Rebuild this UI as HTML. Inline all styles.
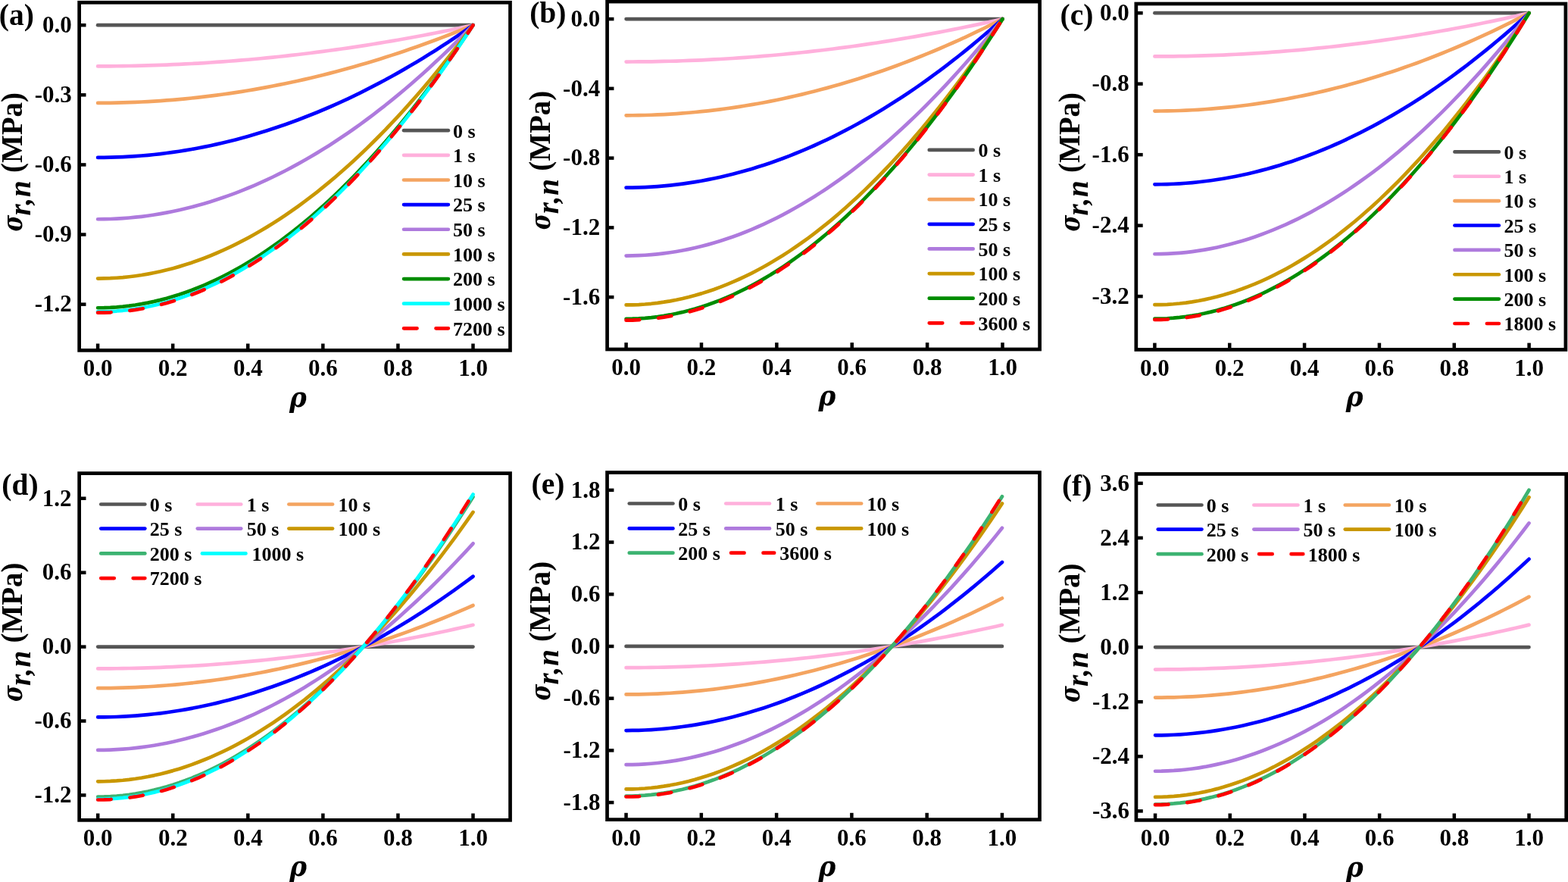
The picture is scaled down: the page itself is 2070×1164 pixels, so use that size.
<!DOCTYPE html>
<html><head><meta charset="utf-8"><title>Radial stress distributions</title>
<style>html,body{margin:0;padding:0;background:#fff;}svg{display:block;}text{font-family:'Liberation Serif', 'Times New Roman', serif;font-weight:bold;fill:#000;}</style></head><body>
<svg width="2070" height="1164" viewBox="0 0 2070 1164">
<rect width="2070" height="1164" fill="#fff"/>
<g id="panel-a">
<path d="M129.1 33.2 L137.36 33.2 L145.61 33.2 L153.87 33.2 L162.13 33.2 L170.38 33.2 L178.64 33.2 L186.9 33.2 L195.15 33.2 L203.41 33.2 L211.67 33.2 L219.92 33.2 L228.18 33.2 L236.44 33.2 L244.69 33.2 L252.95 33.2 L261.21 33.2 L269.46 33.2 L277.72 33.2 L285.98 33.2 L294.23 33.2 L302.49 33.2 L310.75 33.2 L319 33.2 L327.26 33.2 L335.52 33.2 L343.77 33.2 L352.03 33.2 L360.29 33.2 L368.54 33.2 L376.8 33.2 L385.06 33.2 L393.31 33.2 L401.57 33.2 L409.83 33.2 L418.08 33.2 L426.34 33.2 L434.6 33.2 L442.85 33.2 L451.11 33.2 L459.37 33.2 L467.62 33.2 L475.88 33.2 L484.14 33.2 L492.39 33.2 L500.65 33.2 L508.91 33.2 L517.16 33.2 L525.42 33.2 L533.68 33.2 L541.93 33.2 L550.19 33.2 L558.45 33.2 L566.7 33.2 L574.96 33.2 L583.22 33.2 L591.47 33.2 L599.73 33.2 L607.99 33.2 L616.24 33.2 L624.5 33.2" fill="none" stroke="#555555" stroke-width="4.7" stroke-linecap="round" stroke-linejoin="round"/>
<path d="M129.1 87.39 L137.36 87.38 L145.61 87.33 L153.87 87.26 L162.13 87.15 L170.38 87.02 L178.64 86.85 L186.9 86.65 L195.15 86.43 L203.41 86.17 L211.67 85.89 L219.92 85.57 L228.18 85.22 L236.44 84.85 L244.69 84.44 L252.95 84.01 L261.21 83.54 L269.46 83.04 L277.72 82.52 L285.98 81.96 L294.23 81.37 L302.49 80.75 L310.75 80.11 L319 79.43 L327.26 78.72 L335.52 77.98 L343.77 77.22 L352.03 76.42 L360.29 75.59 L368.54 74.73 L376.8 73.84 L385.06 72.93 L393.31 71.98 L401.57 71 L409.83 69.99 L418.08 68.95 L426.34 67.88 L434.6 66.78 L442.85 65.66 L451.11 64.5 L459.37 63.31 L467.62 62.09 L475.88 60.84 L484.14 59.56 L492.39 58.25 L500.65 56.91 L508.91 55.54 L517.16 54.14 L525.42 52.71 L533.68 51.25 L541.93 49.76 L550.19 48.24 L558.45 46.69 L566.7 45.11 L574.96 43.5 L583.22 41.86 L591.47 40.18 L599.73 38.48 L607.99 36.75 L616.24 34.99 L624.5 33.2" fill="none" stroke="#FFB0DC" stroke-width="4.7" stroke-linecap="round" stroke-linejoin="round"/>
<path d="M129.1 135.9 L137.36 135.88 L145.61 135.79 L153.87 135.65 L162.13 135.45 L170.38 135.19 L178.64 134.88 L186.9 134.51 L195.15 134.08 L203.41 133.59 L211.67 133.05 L219.92 132.45 L228.18 131.8 L236.44 131.08 L244.69 130.31 L252.95 129.49 L261.21 128.6 L269.46 127.66 L277.72 126.66 L285.98 125.61 L294.23 124.49 L302.49 123.32 L310.75 122.1 L319 120.81 L327.26 119.47 L335.52 118.07 L343.77 116.62 L352.03 115.11 L360.29 113.54 L368.54 111.91 L376.8 110.23 L385.06 108.49 L393.31 106.69 L401.57 104.84 L409.83 102.93 L418.08 100.96 L426.34 98.93 L434.6 96.85 L442.85 94.71 L451.11 92.51 L459.37 90.26 L467.62 87.95 L475.88 85.58 L484.14 83.15 L492.39 80.67 L500.65 78.13 L508.91 75.54 L517.16 72.88 L525.42 70.17 L533.68 67.41 L541.93 64.58 L550.19 61.7 L558.45 58.76 L566.7 55.77 L574.96 52.71 L583.22 49.6 L591.47 46.44 L599.73 43.21 L607.99 39.93 L616.24 36.59 L624.5 33.2" fill="none" stroke="#F4A460" stroke-width="4.7" stroke-linecap="round" stroke-linejoin="round"/>
<path d="M129.1 207.91 L137.36 207.86 L145.61 207.71 L153.87 207.47 L162.13 207.13 L170.38 206.69 L178.64 206.16 L186.9 205.53 L195.15 204.8 L203.41 203.97 L211.67 203.05 L219.92 202.03 L228.18 200.92 L236.44 199.7 L244.69 198.39 L252.95 196.99 L261.21 195.48 L269.46 193.88 L277.72 192.18 L285.98 190.39 L294.23 188.49 L302.49 186.5 L310.75 184.42 L319 182.23 L327.26 179.95 L335.52 177.57 L343.77 175.1 L352.03 172.53 L360.29 169.86 L368.54 167.09 L376.8 164.23 L385.06 161.27 L393.31 158.21 L401.57 155.06 L409.83 151.81 L418.08 148.46 L426.34 145.01 L434.6 141.47 L442.85 137.83 L451.11 134.09 L459.37 130.26 L467.62 126.33 L475.88 122.3 L484.14 118.17 L492.39 113.95 L500.65 109.63 L508.91 105.22 L517.16 100.7 L525.42 96.09 L533.68 91.39 L541.93 86.58 L550.19 81.68 L558.45 76.68 L566.7 71.59 L574.96 66.39 L583.22 61.1 L591.47 55.72 L599.73 50.23 L607.99 44.65 L616.24 38.97 L624.5 33.2" fill="none" stroke="#0000FF" stroke-width="4.7" stroke-linecap="round" stroke-linejoin="round"/>
<path d="M129.1 289.27 L137.36 289.2 L145.61 288.99 L153.87 288.63 L162.13 288.13 L170.38 287.49 L178.64 286.71 L186.9 285.79 L195.15 284.72 L203.41 283.51 L211.67 282.16 L219.92 280.66 L228.18 279.03 L236.44 277.25 L244.69 275.33 L252.95 273.27 L261.21 271.06 L269.46 268.71 L277.72 266.22 L285.98 263.59 L294.23 260.82 L302.49 257.9 L310.75 254.84 L319 251.64 L327.26 248.3 L335.52 244.81 L343.77 241.19 L352.03 237.42 L360.29 233.5 L368.54 229.45 L376.8 225.25 L385.06 220.91 L393.31 216.43 L401.57 211.81 L409.83 207.04 L418.08 202.14 L426.34 197.09 L434.6 191.89 L442.85 186.56 L451.11 181.08 L459.37 175.46 L467.62 169.7 L475.88 163.8 L484.14 157.75 L492.39 151.56 L500.65 145.23 L508.91 138.76 L517.16 132.14 L525.42 125.39 L533.68 118.49 L541.93 111.44 L550.19 104.26 L558.45 96.93 L566.7 89.46 L574.96 81.85 L583.22 74.1 L591.47 66.2 L599.73 58.17 L607.99 49.99 L616.24 41.66 L624.5 33.2" fill="none" stroke="#AE7ADD" stroke-width="4.7" stroke-linecap="round" stroke-linejoin="round"/>
<path d="M129.1 367.57 L137.36 367.47 L145.61 367.2 L153.87 366.73 L162.13 366.08 L170.38 365.24 L178.64 364.22 L186.9 363.02 L195.15 361.62 L203.41 360.04 L211.67 358.28 L219.92 356.33 L228.18 354.19 L236.44 351.87 L244.69 349.36 L252.95 346.67 L261.21 343.79 L269.46 340.72 L277.72 337.47 L285.98 334.04 L294.23 330.41 L302.49 326.61 L310.75 322.61 L319 318.43 L327.26 314.07 L335.52 309.52 L343.77 304.78 L352.03 299.86 L360.29 294.75 L368.54 289.45 L376.8 283.97 L385.06 278.31 L393.31 272.46 L401.57 266.42 L409.83 260.2 L418.08 253.79 L426.34 247.19 L434.6 240.41 L442.85 233.45 L451.11 226.3 L459.37 218.96 L467.62 211.44 L475.88 203.73 L484.14 195.83 L492.39 187.75 L500.65 179.49 L508.91 171.03 L517.16 162.4 L525.42 153.57 L533.68 144.56 L541.93 135.37 L550.19 125.99 L558.45 116.42 L566.7 106.67 L574.96 96.73 L583.22 86.61 L591.47 76.3 L599.73 65.8 L607.99 55.12 L616.24 44.25 L624.5 33.2" fill="none" stroke="#C99700" stroke-width="4.7" stroke-linecap="round" stroke-linejoin="round"/>
<path d="M129.1 406.25 L137.36 406.15 L145.61 405.84 L153.87 405.32 L162.13 404.6 L170.38 403.66 L178.64 402.52 L186.9 401.18 L195.15 399.62 L203.41 397.86 L211.67 395.89 L219.92 393.71 L228.18 391.33 L236.44 388.74 L244.69 385.94 L252.95 382.94 L261.21 379.73 L269.46 376.31 L277.72 372.68 L285.98 368.84 L294.23 364.8 L302.49 360.55 L310.75 356.1 L319 351.44 L327.26 346.57 L335.52 341.49 L343.77 336.2 L352.03 330.71 L360.29 325.01 L368.54 319.1 L376.8 312.99 L385.06 306.67 L393.31 300.14 L401.57 293.4 L409.83 286.46 L418.08 279.31 L426.34 271.95 L434.6 264.39 L442.85 256.62 L451.11 248.64 L459.37 240.45 L467.62 232.06 L475.88 223.46 L484.14 214.65 L492.39 205.63 L500.65 196.41 L508.91 186.98 L517.16 177.34 L525.42 167.5 L533.68 157.45 L541.93 147.19 L550.19 136.72 L558.45 126.05 L566.7 115.17 L574.96 104.08 L583.22 92.78 L591.47 81.28 L599.73 69.57 L607.99 57.66 L616.24 45.53 L624.5 33.2" fill="none" stroke="#008C00" stroke-width="4.7" stroke-linecap="round" stroke-linejoin="round"/>
<path d="M129.1 411.47 L137.36 411.37 L145.61 411.05 L153.87 410.53 L162.13 409.79 L170.38 408.85 L178.64 407.69 L186.9 406.32 L195.15 404.75 L203.41 402.96 L211.67 400.97 L219.92 398.76 L228.18 396.34 L236.44 393.72 L244.69 390.88 L252.95 387.83 L261.21 384.57 L269.46 381.11 L277.72 377.43 L285.98 373.54 L294.23 369.44 L302.49 365.13 L310.75 360.62 L319 355.89 L327.26 350.95 L335.52 345.8 L343.77 340.44 L352.03 334.87 L360.29 329.09 L368.54 323.1 L376.8 316.9 L385.06 310.5 L393.31 303.88 L401.57 297.05 L409.83 290.01 L418.08 282.76 L426.34 275.29 L434.6 267.62 L442.85 259.74 L451.11 251.65 L459.37 243.35 L467.62 234.84 L475.88 226.12 L484.14 217.19 L492.39 208.05 L500.65 198.69 L508.91 189.13 L517.16 179.36 L525.42 169.38 L533.68 159.19 L541.93 148.78 L550.19 138.17 L558.45 127.35 L566.7 116.32 L574.96 105.07 L583.22 93.62 L591.47 81.96 L599.73 70.08 L607.99 58 L616.24 45.7 L624.5 33.2" fill="none" stroke="#00FFFF" stroke-width="4.7" stroke-linecap="round" stroke-linejoin="round"/>
<path d="M129.1 412.7 L137.36 412.6 L145.61 412.28 L153.87 411.75 L162.13 411.01 L170.38 410.07 L178.64 408.91 L186.9 407.54 L195.15 405.95 L203.41 404.16 L211.67 402.16 L219.92 399.95 L228.18 397.52 L236.44 394.89 L244.69 392.04 L252.95 388.98 L261.21 385.71 L269.46 382.24 L277.72 378.55 L285.98 374.65 L294.23 370.53 L302.49 366.21 L310.75 361.68 L319 356.94 L327.26 351.98 L335.52 346.82 L343.77 341.44 L352.03 335.85 L360.29 330.05 L368.54 324.05 L376.8 317.83 L385.06 311.4 L393.31 304.75 L401.57 297.9 L409.83 290.84 L418.08 283.57 L426.34 276.08 L434.6 268.39 L442.85 260.48 L451.11 252.36 L459.37 244.03 L467.62 235.5 L475.88 226.75 L484.14 217.79 L492.39 208.61 L500.65 199.23 L508.91 189.64 L517.16 179.84 L525.42 169.82 L533.68 159.6 L541.93 149.16 L550.19 138.51 L558.45 127.65 L566.7 116.58 L574.96 105.31 L583.22 93.81 L591.47 82.11 L599.73 70.2 L607.99 58.08 L616.24 45.74 L624.5 33.2" fill="none" stroke="#FF0000" stroke-width="4.7" stroke-linecap="round" stroke-linejoin="round" stroke-dasharray="17.5 24.95"/>
<rect x="104.65" y="3.3" width="568.85" height="459.05" fill="none" stroke="#000" stroke-width="4.7"/>
<line x1="129.1" y1="460.5" x2="129.1" y2="453.5" stroke="#000" stroke-width="4.5"/>
<text x="129.1" y="496.45" font-size="31" text-anchor="middle">0.0</text>
<line x1="228.18" y1="460.5" x2="228.18" y2="453.5" stroke="#000" stroke-width="4.5"/>
<text x="228.18" y="496.45" font-size="31" text-anchor="middle">0.2</text>
<line x1="327.26" y1="460.5" x2="327.26" y2="453.5" stroke="#000" stroke-width="4.5"/>
<text x="327.26" y="496.45" font-size="31" text-anchor="middle">0.4</text>
<line x1="426.34" y1="460.5" x2="426.34" y2="453.5" stroke="#000" stroke-width="4.5"/>
<text x="426.34" y="496.45" font-size="31" text-anchor="middle">0.6</text>
<line x1="525.42" y1="460.5" x2="525.42" y2="453.5" stroke="#000" stroke-width="4.5"/>
<text x="525.42" y="496.45" font-size="31" text-anchor="middle">0.8</text>
<line x1="624.5" y1="460.5" x2="624.5" y2="453.5" stroke="#000" stroke-width="4.5"/>
<text x="624.5" y="496.45" font-size="31" text-anchor="middle">1.0</text>
<line x1="106.5" y1="33.2" x2="113.5" y2="33.2" stroke="#000" stroke-width="4.5"/>
<text x="94.8" y="43" font-size="31" text-anchor="end">0.0</text>
<line x1="106.5" y1="125.31" x2="113.5" y2="125.31" stroke="#000" stroke-width="4.5"/>
<text x="94.8" y="135.11" font-size="31" text-anchor="end">-0.3</text>
<line x1="106.5" y1="217.42" x2="113.5" y2="217.42" stroke="#000" stroke-width="4.5"/>
<text x="94.8" y="227.22" font-size="31" text-anchor="end">-0.6</text>
<line x1="106.5" y1="309.54" x2="113.5" y2="309.54" stroke="#000" stroke-width="4.5"/>
<text x="94.8" y="319.34" font-size="31" text-anchor="end">-0.9</text>
<line x1="106.5" y1="401.65" x2="113.5" y2="401.65" stroke="#000" stroke-width="4.5"/>
<text x="94.8" y="411.45" font-size="31" text-anchor="end">-1.2</text>
</g>
<g id="panel-b">
<path d="M826.6 25.1 L834.88 25.1 L843.16 25.1 L851.45 25.1 L859.73 25.1 L868.01 25.1 L876.29 25.1 L884.57 25.1 L892.85 25.1 L901.13 25.1 L909.42 25.1 L917.7 25.1 L925.98 25.1 L934.26 25.1 L942.54 25.1 L950.83 25.1 L959.11 25.1 L967.39 25.1 L975.67 25.1 L983.95 25.1 L992.23 25.1 L1000.51 25.1 L1008.8 25.1 L1017.08 25.1 L1025.36 25.1 L1033.64 25.1 L1041.92 25.1 L1050.2 25.1 L1058.49 25.1 L1066.77 25.1 L1075.05 25.1 L1083.33 25.1 L1091.61 25.1 L1099.89 25.1 L1108.18 25.1 L1116.46 25.1 L1124.74 25.1 L1133.02 25.1 L1141.3 25.1 L1149.59 25.1 L1157.87 25.1 L1166.15 25.1 L1174.43 25.1 L1182.71 25.1 L1190.99 25.1 L1199.28 25.1 L1207.56 25.1 L1215.84 25.1 L1224.12 25.1 L1232.4 25.1 L1240.68 25.1 L1248.96 25.1 L1257.25 25.1 L1265.53 25.1 L1273.81 25.1 L1282.09 25.1 L1290.37 25.1 L1298.65 25.1 L1306.94 25.1 L1315.22 25.1 L1323.5 25.1" fill="none" stroke="#555555" stroke-width="4.7" stroke-linecap="round" stroke-linejoin="round"/>
<path d="M826.6 81.53 L834.88 81.52 L843.16 81.47 L851.45 81.39 L859.73 81.28 L868.01 81.14 L876.29 80.97 L884.57 80.76 L892.85 80.53 L901.13 80.26 L909.42 79.96 L917.7 79.64 L925.98 79.28 L934.26 78.88 L942.54 78.46 L950.83 78.01 L959.11 77.52 L967.39 77 L975.67 76.45 L983.95 75.87 L992.23 75.26 L1000.51 74.62 L1008.8 73.95 L1017.08 73.24 L1025.36 72.5 L1033.64 71.74 L1041.92 70.94 L1050.2 70.1 L1058.49 69.24 L1066.77 68.35 L1075.05 67.42 L1083.33 66.47 L1091.61 65.48 L1099.89 64.46 L1108.18 63.41 L1116.46 62.33 L1124.74 61.22 L1133.02 60.07 L1141.3 58.9 L1149.59 57.69 L1157.87 56.45 L1166.15 55.18 L1174.43 53.88 L1182.71 52.55 L1190.99 51.18 L1199.28 49.79 L1207.56 48.36 L1215.84 46.9 L1224.12 45.42 L1232.4 43.9 L1240.68 42.34 L1248.96 40.76 L1257.25 39.15 L1265.53 37.5 L1273.81 35.82 L1282.09 34.11 L1290.37 32.37 L1298.65 30.6 L1306.94 28.8 L1315.22 26.97 L1323.5 25.1" fill="none" stroke="#FFB0DC" stroke-width="4.7" stroke-linecap="round" stroke-linejoin="round"/>
<path d="M826.6 152.3 L834.88 152.27 L843.16 152.16 L851.45 151.98 L859.73 151.74 L868.01 151.42 L876.29 151.03 L884.57 150.57 L892.85 150.04 L901.13 149.44 L909.42 148.77 L917.7 148.03 L925.98 147.21 L934.26 146.33 L942.54 145.38 L950.83 144.35 L959.11 143.26 L967.39 142.09 L975.67 140.85 L983.95 139.55 L992.23 138.17 L1000.51 136.72 L1008.8 135.2 L1017.08 133.61 L1025.36 131.95 L1033.64 130.22 L1041.92 128.42 L1050.2 126.54 L1058.49 124.6 L1066.77 122.59 L1075.05 120.5 L1083.33 118.35 L1091.61 116.12 L1099.89 113.82 L1108.18 111.46 L1116.46 109.02 L1124.74 106.51 L1133.02 103.93 L1141.3 101.28 L1149.59 98.56 L1157.87 95.77 L1166.15 92.91 L1174.43 89.97 L1182.71 86.97 L1190.99 83.9 L1199.28 80.75 L1207.56 77.54 L1215.84 74.25 L1224.12 70.89 L1232.4 67.47 L1240.68 63.97 L1248.96 60.4 L1257.25 56.76 L1265.53 53.05 L1273.81 49.27 L1282.09 45.42 L1290.37 41.49 L1298.65 37.5 L1306.94 33.44 L1315.22 29.3 L1323.5 25.1" fill="none" stroke="#F4A460" stroke-width="4.7" stroke-linecap="round" stroke-linejoin="round"/>
<path d="M826.6 247.62 L834.88 247.56 L843.16 247.37 L851.45 247.06 L859.73 246.63 L868.01 246.07 L876.29 245.39 L884.57 244.59 L892.85 243.66 L901.13 242.61 L909.42 241.44 L917.7 240.14 L925.98 238.72 L934.26 237.17 L942.54 235.5 L950.83 233.71 L959.11 231.79 L967.39 229.75 L975.67 227.59 L983.95 225.3 L992.23 222.89 L1000.51 220.36 L1008.8 217.7 L1017.08 214.92 L1025.36 212.02 L1033.64 208.99 L1041.92 205.83 L1050.2 202.56 L1058.49 199.16 L1066.77 195.64 L1075.05 191.99 L1083.33 188.22 L1091.61 184.32 L1099.89 180.31 L1108.18 176.16 L1116.46 171.9 L1124.74 167.51 L1133.02 163 L1141.3 158.36 L1149.59 153.6 L1157.87 148.72 L1166.15 143.71 L1174.43 138.58 L1182.71 133.33 L1190.99 127.95 L1199.28 122.45 L1207.56 116.83 L1215.84 111.08 L1224.12 105.21 L1232.4 99.21 L1240.68 93.09 L1248.96 86.85 L1257.25 80.48 L1265.53 73.99 L1273.81 67.38 L1282.09 60.64 L1290.37 53.78 L1298.65 46.8 L1306.94 39.69 L1315.22 32.46 L1323.5 25.1" fill="none" stroke="#0000FF" stroke-width="4.7" stroke-linecap="round" stroke-linejoin="round"/>
<path d="M826.6 337.54 L834.88 337.46 L843.16 337.2 L851.45 336.76 L859.73 336.15 L868.01 335.37 L876.29 334.42 L884.57 333.29 L892.85 331.99 L901.13 330.51 L909.42 328.86 L917.7 327.04 L925.98 325.05 L934.26 322.88 L942.54 320.53 L950.83 318.02 L959.11 315.32 L967.39 312.46 L975.67 309.42 L983.95 306.21 L992.23 302.83 L1000.51 299.27 L1008.8 295.54 L1017.08 291.63 L1025.36 287.55 L1033.64 283.3 L1041.92 278.87 L1050.2 274.27 L1058.49 269.5 L1066.77 264.55 L1075.05 259.43 L1083.33 254.14 L1091.61 248.67 L1099.89 243.03 L1108.18 237.21 L1116.46 231.23 L1124.74 225.06 L1133.02 218.73 L1141.3 212.22 L1149.59 205.54 L1157.87 198.68 L1166.15 191.65 L1174.43 184.45 L1182.71 177.07 L1190.99 169.52 L1199.28 161.79 L1207.56 153.9 L1215.84 145.82 L1224.12 137.58 L1232.4 129.16 L1240.68 120.57 L1248.96 111.8 L1257.25 102.86 L1265.53 93.75 L1273.81 84.46 L1282.09 75 L1290.37 65.37 L1298.65 55.56 L1306.94 45.58 L1315.22 35.43 L1323.5 25.1" fill="none" stroke="#AE7ADD" stroke-width="4.7" stroke-linecap="round" stroke-linejoin="round"/>
<path d="M826.6 402.46 L834.88 402.36 L843.16 402.04 L851.45 401.52 L859.73 400.79 L868.01 399.84 L876.29 398.69 L884.57 397.33 L892.85 395.75 L901.13 393.97 L909.42 391.98 L917.7 389.78 L925.98 387.37 L934.26 384.75 L942.54 381.92 L950.83 378.88 L959.11 375.63 L967.39 372.17 L975.67 368.5 L983.95 364.62 L992.23 360.53 L1000.51 356.24 L1008.8 351.73 L1017.08 347.01 L1025.36 342.08 L1033.64 336.95 L1041.92 331.6 L1050.2 326.05 L1058.49 320.28 L1066.77 314.31 L1075.05 308.12 L1083.33 301.73 L1091.61 295.12 L1099.89 288.31 L1108.18 281.29 L1116.46 274.05 L1124.74 266.61 L1133.02 258.96 L1141.3 251.1 L1149.59 243.03 L1157.87 234.75 L1166.15 226.26 L1174.43 217.56 L1182.71 208.65 L1190.99 199.53 L1199.28 190.2 L1207.56 180.66 L1215.84 170.91 L1224.12 160.95 L1232.4 150.78 L1240.68 140.41 L1248.96 129.82 L1257.25 119.02 L1265.53 108.02 L1273.81 96.8 L1282.09 85.37 L1290.37 73.74 L1298.65 61.89 L1306.94 49.84 L1315.22 37.57 L1323.5 25.1" fill="none" stroke="#C99700" stroke-width="4.7" stroke-linecap="round" stroke-linejoin="round"/>
<path d="M826.6 420.82 L834.88 420.71 L843.16 420.38 L851.45 419.83 L859.73 419.06 L868.01 418.07 L876.29 416.86 L884.57 415.43 L892.85 413.78 L901.13 411.91 L909.42 409.82 L917.7 407.51 L925.98 404.99 L934.26 402.24 L942.54 399.27 L950.83 396.08 L959.11 392.68 L967.39 389.05 L975.67 385.2 L983.95 381.13 L992.23 376.85 L1000.51 372.34 L1008.8 367.61 L1017.08 362.67 L1025.36 357.5 L1033.64 352.11 L1041.92 346.51 L1050.2 340.68 L1058.49 334.64 L1066.77 328.37 L1075.05 321.89 L1083.33 315.18 L1091.61 308.26 L1099.89 301.11 L1108.18 293.75 L1116.46 286.16 L1124.74 278.36 L1133.02 270.33 L1141.3 262.09 L1149.59 253.63 L1157.87 244.94 L1166.15 236.04 L1174.43 226.91 L1182.71 217.57 L1190.99 208.01 L1199.28 198.23 L1207.56 188.22 L1215.84 178 L1224.12 167.56 L1232.4 156.9 L1240.68 146.01 L1248.96 134.91 L1257.25 123.59 L1265.53 112.05 L1273.81 100.29 L1282.09 88.3 L1290.37 76.1 L1298.65 63.68 L1306.94 51.04 L1315.22 38.18 L1323.5 25.1" fill="none" stroke="#008C00" stroke-width="4.7" stroke-linecap="round" stroke-linejoin="round"/>
<path d="M826.6 422.65 L834.88 422.54 L843.16 422.21 L851.45 421.66 L859.73 420.88 L868.01 419.89 L876.29 418.67 L884.57 417.24 L892.85 415.58 L901.13 413.71 L909.42 411.61 L917.7 409.29 L925.98 406.75 L934.26 403.99 L942.54 401.01 L950.83 397.8 L959.11 394.38 L967.39 390.74 L975.67 386.87 L983.95 382.78 L992.23 378.48 L1000.51 373.95 L1008.8 369.2 L1017.08 364.23 L1025.36 359.04 L1033.64 353.63 L1041.92 348 L1050.2 342.15 L1058.49 336.07 L1066.77 329.78 L1075.05 323.26 L1083.33 316.53 L1091.61 309.57 L1099.89 302.39 L1108.18 294.99 L1116.46 287.37 L1124.74 279.53 L1133.02 271.47 L1141.3 263.19 L1149.59 254.69 L1157.87 245.96 L1166.15 237.02 L1174.43 227.85 L1182.71 218.46 L1190.99 208.86 L1199.28 199.03 L1207.56 188.98 L1215.84 178.71 L1224.12 168.22 L1232.4 157.51 L1240.68 146.57 L1248.96 135.42 L1257.25 124.05 L1265.53 112.45 L1273.81 100.63 L1282.09 88.6 L1290.37 76.34 L1298.65 63.86 L1306.94 51.16 L1315.22 38.24 L1323.5 25.1" fill="none" stroke="#FF0000" stroke-width="4.7" stroke-linecap="round" stroke-linejoin="round" stroke-dasharray="17.5 25.05"/>
<rect x="801.6" y="2.1" width="571" height="458.9" fill="none" stroke="#000" stroke-width="4.7"/>
<line x1="826.6" y1="459.15" x2="826.6" y2="452.15" stroke="#000" stroke-width="4.5"/>
<text x="826.6" y="495.1" font-size="31" text-anchor="middle">0.0</text>
<line x1="925.98" y1="459.15" x2="925.98" y2="452.15" stroke="#000" stroke-width="4.5"/>
<text x="925.98" y="495.1" font-size="31" text-anchor="middle">0.2</text>
<line x1="1025.36" y1="459.15" x2="1025.36" y2="452.15" stroke="#000" stroke-width="4.5"/>
<text x="1025.36" y="495.1" font-size="31" text-anchor="middle">0.4</text>
<line x1="1124.74" y1="459.15" x2="1124.74" y2="452.15" stroke="#000" stroke-width="4.5"/>
<text x="1124.74" y="495.1" font-size="31" text-anchor="middle">0.6</text>
<line x1="1224.12" y1="459.15" x2="1224.12" y2="452.15" stroke="#000" stroke-width="4.5"/>
<text x="1224.12" y="495.1" font-size="31" text-anchor="middle">0.8</text>
<line x1="1323.5" y1="459.15" x2="1323.5" y2="452.15" stroke="#000" stroke-width="4.5"/>
<text x="1323.5" y="495.1" font-size="31" text-anchor="middle">1.0</text>
<line x1="803.45" y1="25.1" x2="810.45" y2="25.1" stroke="#000" stroke-width="4.5"/>
<text x="792.2" y="34.9" font-size="31" text-anchor="end">0.0</text>
<line x1="803.45" y1="116.86" x2="810.45" y2="116.86" stroke="#000" stroke-width="4.5"/>
<text x="792.2" y="126.66" font-size="31" text-anchor="end">-0.4</text>
<line x1="803.45" y1="208.62" x2="810.45" y2="208.62" stroke="#000" stroke-width="4.5"/>
<text x="792.2" y="218.42" font-size="31" text-anchor="end">-0.8</text>
<line x1="803.45" y1="300.38" x2="810.45" y2="300.38" stroke="#000" stroke-width="4.5"/>
<text x="792.2" y="310.18" font-size="31" text-anchor="end">-1.2</text>
<line x1="803.45" y1="392.14" x2="810.45" y2="392.14" stroke="#000" stroke-width="4.5"/>
<text x="792.2" y="401.94" font-size="31" text-anchor="end">-1.6</text>
</g>
<g id="panel-c">
<path d="M1524.4 17.2 L1532.64 17.2 L1540.87 17.2 L1549.11 17.2 L1557.35 17.2 L1565.58 17.2 L1573.82 17.2 L1582.06 17.2 L1590.29 17.2 L1598.53 17.2 L1606.77 17.2 L1615 17.2 L1623.24 17.2 L1631.48 17.2 L1639.71 17.2 L1647.95 17.2 L1656.19 17.2 L1664.42 17.2 L1672.66 17.2 L1680.9 17.2 L1689.13 17.2 L1697.37 17.2 L1705.61 17.2 L1713.84 17.2 L1722.08 17.2 L1730.32 17.2 L1738.55 17.2 L1746.79 17.2 L1755.03 17.2 L1763.26 17.2 L1771.5 17.2 L1779.74 17.2 L1787.97 17.2 L1796.21 17.2 L1804.45 17.2 L1812.68 17.2 L1820.92 17.2 L1829.16 17.2 L1837.39 17.2 L1845.63 17.2 L1853.87 17.2 L1862.1 17.2 L1870.34 17.2 L1878.58 17.2 L1886.81 17.2 L1895.05 17.2 L1903.29 17.2 L1911.52 17.2 L1919.76 17.2 L1928 17.2 L1936.23 17.2 L1944.47 17.2 L1952.71 17.2 L1960.94 17.2 L1969.18 17.2 L1977.42 17.2 L1985.65 17.2 L1993.89 17.2 L2002.13 17.2 L2010.36 17.2 L2018.6 17.2" fill="none" stroke="#555555" stroke-width="4.7" stroke-linecap="round" stroke-linejoin="round"/>
<path d="M1524.4 74.46 L1532.64 74.44 L1540.87 74.39 L1549.11 74.31 L1557.35 74.2 L1565.58 74.06 L1573.82 73.88 L1582.06 73.68 L1590.29 73.44 L1598.53 73.17 L1606.77 72.87 L1615 72.53 L1623.24 72.17 L1631.48 71.77 L1639.71 71.34 L1647.95 70.88 L1656.19 70.38 L1664.42 69.86 L1672.66 69.3 L1680.9 68.71 L1689.13 68.09 L1697.37 67.44 L1705.61 66.76 L1713.84 66.04 L1722.08 65.3 L1730.32 64.52 L1738.55 63.71 L1746.79 62.86 L1755.03 61.99 L1763.26 61.08 L1771.5 60.14 L1779.74 59.17 L1787.97 58.17 L1796.21 57.14 L1804.45 56.07 L1812.68 54.97 L1820.92 53.84 L1829.16 52.68 L1837.39 51.49 L1845.63 50.27 L1853.87 49.01 L1862.1 47.72 L1870.34 46.4 L1878.58 45.05 L1886.81 43.67 L1895.05 42.25 L1903.29 40.8 L1911.52 39.32 L1919.76 37.81 L1928 36.27 L1936.23 34.7 L1944.47 33.09 L1952.71 31.45 L1960.94 29.78 L1969.18 28.08 L1977.42 26.35 L1985.65 24.58 L1993.89 22.78 L2002.13 20.95 L2010.36 19.09 L2018.6 17.2" fill="none" stroke="#FFB0DC" stroke-width="4.7" stroke-linecap="round" stroke-linejoin="round"/>
<path d="M1524.4 146.55 L1532.64 146.52 L1540.87 146.41 L1549.11 146.23 L1557.35 145.98 L1565.58 145.65 L1573.82 145.26 L1582.06 144.79 L1590.29 144.25 L1598.53 143.64 L1606.77 142.96 L1615 142.21 L1623.24 141.38 L1631.48 140.48 L1639.71 139.51 L1647.95 138.47 L1656.19 137.35 L1664.42 136.17 L1672.66 134.91 L1680.9 133.58 L1689.13 132.18 L1697.37 130.71 L1705.61 129.16 L1713.84 127.55 L1722.08 125.86 L1730.32 124.1 L1738.55 122.26 L1746.79 120.36 L1755.03 118.38 L1763.26 116.33 L1771.5 114.21 L1779.74 112.02 L1787.97 109.76 L1796.21 107.42 L1804.45 105.02 L1812.68 102.54 L1820.92 99.99 L1829.16 97.36 L1837.39 94.67 L1845.63 91.9 L1853.87 89.06 L1862.1 86.15 L1870.34 83.17 L1878.58 80.12 L1886.81 76.99 L1895.05 73.79 L1903.29 70.52 L1911.52 67.18 L1919.76 63.77 L1928 60.28 L1936.23 56.72 L1944.47 53.1 L1952.71 49.39 L1960.94 45.62 L1969.18 41.78 L1977.42 37.86 L1985.65 33.87 L1993.89 29.81 L2002.13 25.68 L2010.36 21.48 L2018.6 17.2" fill="none" stroke="#F4A460" stroke-width="4.7" stroke-linecap="round" stroke-linejoin="round"/>
<path d="M1524.4 243.3 L1532.64 243.24 L1540.87 243.05 L1549.11 242.74 L1557.35 242.3 L1565.58 241.73 L1573.82 241.04 L1582.06 240.23 L1590.29 239.29 L1598.53 238.22 L1606.77 237.02 L1615 235.71 L1623.24 234.26 L1631.48 232.69 L1639.71 230.99 L1647.95 229.17 L1656.19 227.23 L1664.42 225.15 L1672.66 222.96 L1680.9 220.63 L1689.13 218.18 L1697.37 215.61 L1705.61 212.91 L1713.84 210.08 L1722.08 207.13 L1730.32 204.05 L1738.55 200.85 L1746.79 197.52 L1755.03 194.06 L1763.26 190.48 L1771.5 186.78 L1779.74 182.95 L1787.97 178.99 L1796.21 174.91 L1804.45 170.7 L1812.68 166.37 L1820.92 161.91 L1829.16 157.32 L1837.39 152.61 L1845.63 147.78 L1853.87 142.81 L1862.1 137.73 L1870.34 132.51 L1878.58 127.17 L1886.81 121.71 L1895.05 116.12 L1903.29 110.41 L1911.52 104.56 L1919.76 98.6 L1928 92.51 L1936.23 86.29 L1944.47 79.94 L1952.71 73.47 L1960.94 66.88 L1969.18 60.16 L1977.42 53.31 L1985.65 46.34 L1993.89 39.25 L2002.13 32.02 L2010.36 24.67 L2018.6 17.2" fill="none" stroke="#0000FF" stroke-width="4.7" stroke-linecap="round" stroke-linejoin="round"/>
<path d="M1524.4 335.27 L1532.64 335.18 L1540.87 334.91 L1549.11 334.47 L1557.35 333.85 L1565.58 333.06 L1573.82 332.09 L1582.06 330.94 L1590.29 329.61 L1598.53 328.11 L1606.77 326.43 L1615 324.58 L1623.24 322.54 L1631.48 320.33 L1639.71 317.95 L1647.95 315.39 L1656.19 312.65 L1664.42 309.73 L1672.66 306.64 L1680.9 303.37 L1689.13 299.93 L1697.37 296.3 L1705.61 292.5 L1713.84 288.53 L1722.08 284.38 L1730.32 280.05 L1738.55 275.54 L1746.79 270.86 L1755.03 266 L1763.26 260.96 L1771.5 255.75 L1779.74 250.36 L1787.97 244.79 L1796.21 239.05 L1804.45 233.13 L1812.68 227.04 L1820.92 220.76 L1829.16 214.31 L1837.39 207.69 L1845.63 200.88 L1853.87 193.9 L1862.1 186.75 L1870.34 179.41 L1878.58 171.9 L1886.81 164.22 L1895.05 156.35 L1903.29 148.31 L1911.52 140.1 L1919.76 131.7 L1928 123.13 L1936.23 114.39 L1944.47 105.46 L1952.71 96.36 L1960.94 87.09 L1969.18 77.63 L1977.42 68 L1985.65 58.2 L1993.89 48.21 L2002.13 38.05 L2010.36 27.71 L2018.6 17.2" fill="none" stroke="#AE7ADD" stroke-width="4.7" stroke-linecap="round" stroke-linejoin="round"/>
<path d="M1524.4 402.22 L1532.64 402.11 L1540.87 401.79 L1549.11 401.26 L1557.35 400.51 L1565.58 399.55 L1573.82 398.37 L1582.06 396.98 L1590.29 395.38 L1598.53 393.56 L1606.77 391.53 L1615 389.28 L1623.24 386.82 L1631.48 384.15 L1639.71 381.26 L1647.95 378.16 L1656.19 374.84 L1664.42 371.31 L1672.66 367.57 L1680.9 363.61 L1689.13 359.44 L1697.37 355.06 L1705.61 350.46 L1713.84 345.64 L1722.08 340.62 L1730.32 335.38 L1738.55 329.92 L1746.79 324.25 L1755.03 318.37 L1763.26 312.28 L1771.5 305.97 L1779.74 299.44 L1787.97 292.7 L1796.21 285.75 L1804.45 278.59 L1812.68 271.21 L1820.92 263.61 L1829.16 255.81 L1837.39 247.78 L1845.63 239.55 L1853.87 231.1 L1862.1 222.44 L1870.34 213.56 L1878.58 204.47 L1886.81 195.17 L1895.05 185.65 L1903.29 175.91 L1911.52 165.97 L1919.76 155.81 L1928 145.43 L1936.23 134.85 L1944.47 124.04 L1952.71 113.03 L1960.94 101.8 L1969.18 90.35 L1977.42 78.7 L1985.65 66.82 L1993.89 54.74 L2002.13 42.44 L2010.36 29.93 L2018.6 17.2" fill="none" stroke="#C99700" stroke-width="4.7" stroke-linecap="round" stroke-linejoin="round"/>
<path d="M1524.4 420.68 L1532.64 420.57 L1540.87 420.23 L1549.11 419.67 L1557.35 418.89 L1565.58 417.88 L1573.82 416.65 L1582.06 415.19 L1590.29 413.51 L1598.53 411.6 L1606.77 409.48 L1615 407.12 L1623.24 404.54 L1631.48 401.74 L1639.71 398.72 L1647.95 395.47 L1656.19 391.99 L1664.42 388.29 L1672.66 384.37 L1680.9 380.22 L1689.13 375.85 L1697.37 371.26 L1705.61 366.44 L1713.84 361.39 L1722.08 356.13 L1730.32 350.63 L1738.55 344.92 L1746.79 338.98 L1755.03 332.81 L1763.26 326.42 L1771.5 319.81 L1779.74 312.98 L1787.97 305.91 L1796.21 298.63 L1804.45 291.12 L1812.68 283.39 L1820.92 275.43 L1829.16 267.25 L1837.39 258.84 L1845.63 250.21 L1853.87 241.36 L1862.1 232.28 L1870.34 222.98 L1878.58 213.45 L1886.81 203.7 L1895.05 193.72 L1903.29 183.52 L1911.52 173.1 L1919.76 162.45 L1928 151.58 L1936.23 140.49 L1944.47 129.17 L1952.71 117.62 L1960.94 105.85 L1969.18 93.86 L1977.42 81.65 L1985.65 69.2 L1993.89 56.54 L2002.13 43.65 L2010.36 30.54 L2018.6 17.2" fill="none" stroke="#008C00" stroke-width="4.7" stroke-linecap="round" stroke-linejoin="round"/>
<path d="M1524.4 421.97 L1532.64 421.86 L1540.87 421.52 L1549.11 420.96 L1557.35 420.17 L1565.58 419.16 L1573.82 417.92 L1582.06 416.46 L1590.29 414.77 L1598.53 412.86 L1606.77 410.72 L1615 408.36 L1623.24 405.78 L1631.48 402.97 L1639.71 399.93 L1647.95 396.67 L1656.19 393.18 L1664.42 389.47 L1672.66 385.54 L1680.9 381.38 L1689.13 376.99 L1697.37 372.38 L1705.61 367.55 L1713.84 362.49 L1722.08 357.21 L1730.32 351.7 L1738.55 345.96 L1746.79 340 L1755.03 333.82 L1763.26 327.41 L1771.5 320.78 L1779.74 313.92 L1787.97 306.83 L1796.21 299.53 L1804.45 291.99 L1812.68 284.23 L1820.92 276.25 L1829.16 268.04 L1837.39 259.61 L1845.63 250.95 L1853.87 242.07 L1862.1 232.96 L1870.34 223.63 L1878.58 214.07 L1886.81 204.29 L1895.05 194.29 L1903.29 184.05 L1911.52 173.6 L1919.76 162.92 L1928 152.01 L1936.23 140.88 L1944.47 129.52 L1952.71 117.94 L1960.94 106.14 L1969.18 94.11 L1977.42 81.85 L1985.65 69.37 L1993.89 56.66 L2002.13 43.73 L2010.36 30.58 L2018.6 17.2" fill="none" stroke="#FF0000" stroke-width="4.7" stroke-linecap="round" stroke-linejoin="round" stroke-dasharray="17.5 24.82"/>
<rect x="1499.85" y="5" width="567.05" height="456.45" fill="none" stroke="#000" stroke-width="4.7"/>
<line x1="1524.4" y1="459.6" x2="1524.4" y2="452.6" stroke="#000" stroke-width="4.5"/>
<text x="1524.4" y="495.55" font-size="31" text-anchor="middle">0.0</text>
<line x1="1623.24" y1="459.6" x2="1623.24" y2="452.6" stroke="#000" stroke-width="4.5"/>
<text x="1623.24" y="495.55" font-size="31" text-anchor="middle">0.2</text>
<line x1="1722.08" y1="459.6" x2="1722.08" y2="452.6" stroke="#000" stroke-width="4.5"/>
<text x="1722.08" y="495.55" font-size="31" text-anchor="middle">0.4</text>
<line x1="1820.92" y1="459.6" x2="1820.92" y2="452.6" stroke="#000" stroke-width="4.5"/>
<text x="1820.92" y="495.55" font-size="31" text-anchor="middle">0.6</text>
<line x1="1919.76" y1="459.6" x2="1919.76" y2="452.6" stroke="#000" stroke-width="4.5"/>
<text x="1919.76" y="495.55" font-size="31" text-anchor="middle">0.8</text>
<line x1="2018.6" y1="459.6" x2="2018.6" y2="452.6" stroke="#000" stroke-width="4.5"/>
<text x="2018.6" y="495.55" font-size="31" text-anchor="middle">1.0</text>
<line x1="1501.7" y1="17.2" x2="1508.7" y2="17.2" stroke="#000" stroke-width="4.5"/>
<text x="1490.7" y="27" font-size="31" text-anchor="end">0.0</text>
<line x1="1501.7" y1="110.68" x2="1508.7" y2="110.68" stroke="#000" stroke-width="4.5"/>
<text x="1490.7" y="120.48" font-size="31" text-anchor="end">-0.8</text>
<line x1="1501.7" y1="204.16" x2="1508.7" y2="204.16" stroke="#000" stroke-width="4.5"/>
<text x="1490.7" y="213.96" font-size="31" text-anchor="end">-1.6</text>
<line x1="1501.7" y1="297.64" x2="1508.7" y2="297.64" stroke="#000" stroke-width="4.5"/>
<text x="1490.7" y="307.44" font-size="31" text-anchor="end">-2.4</text>
<line x1="1501.7" y1="391.12" x2="1508.7" y2="391.12" stroke="#000" stroke-width="4.5"/>
<text x="1490.7" y="400.92" font-size="31" text-anchor="end">-3.2</text>
</g>
<g id="panel-d">
<path d="M129.2 853.6 L137.45 853.6 L145.71 853.6 L153.96 853.6 L162.22 853.6 L170.47 853.6 L178.73 853.6 L186.98 853.6 L195.24 853.6 L203.5 853.6 L211.75 853.6 L220 853.6 L228.26 853.6 L236.51 853.6 L244.77 853.6 L253.02 853.6 L261.28 853.6 L269.53 853.6 L277.79 853.6 L286.04 853.6 L294.3 853.6 L302.55 853.6 L310.81 853.6 L319.06 853.6 L327.32 853.6 L335.57 853.6 L343.83 853.6 L352.09 853.6 L360.34 853.6 L368.6 853.6 L376.85 853.6 L385.11 853.6 L393.36 853.6 L401.62 853.6 L409.87 853.6 L418.12 853.6 L426.38 853.6 L434.63 853.6 L442.89 853.6 L451.14 853.6 L459.4 853.6 L467.66 853.6 L475.91 853.6 L484.17 853.6 L492.42 853.6 L500.68 853.6 L508.93 853.6 L517.18 853.6 L525.44 853.6 L533.69 853.6 L541.95 853.6 L550.2 853.6 L558.46 853.6 L566.71 853.6 L574.97 853.6 L583.22 853.6 L591.48 853.6 L599.73 853.6 L607.99 853.6 L616.24 853.6 L624.5 853.6" fill="none" stroke="#555555" stroke-width="4.7" stroke-linecap="round" stroke-linejoin="round"/>
<path d="M129.2 882.4 L137.45 882.39 L145.71 882.34 L153.96 882.26 L162.22 882.15 L170.47 882 L178.73 881.83 L186.98 881.62 L195.24 881.38 L203.5 881.11 L211.75 880.8 L220 880.47 L228.26 880.1 L236.51 879.7 L244.77 879.27 L253.02 878.8 L261.28 878.31 L269.53 877.78 L277.79 877.22 L286.04 876.63 L294.3 876 L302.55 875.35 L310.81 874.66 L319.06 873.94 L327.32 873.19 L335.57 872.4 L343.83 871.59 L352.09 870.74 L360.34 869.86 L368.6 868.95 L376.85 868 L385.11 867.03 L393.36 866.02 L401.62 864.98 L409.87 863.91 L418.12 862.8 L426.38 861.67 L434.63 860.5 L442.89 859.3 L451.14 858.06 L459.4 856.8 L467.66 855.5 L475.91 854.18 L484.17 852.82 L492.42 851.42 L500.68 850 L508.93 848.54 L517.18 847.05 L525.44 845.53 L533.69 843.98 L541.95 842.4 L550.2 840.78 L558.46 839.13 L566.71 837.45 L574.97 835.74 L583.22 834 L591.48 832.22 L599.73 830.41 L607.99 828.57 L616.24 826.7 L624.5 824.8" fill="none" stroke="#FFB0DC" stroke-width="4.7" stroke-linecap="round" stroke-linejoin="round"/>
<path d="M129.2 908.19 L137.45 908.16 L145.71 908.07 L153.96 907.92 L162.22 907.71 L170.47 907.43 L178.73 907.1 L186.98 906.7 L195.24 906.25 L203.5 905.73 L211.75 905.16 L220 904.52 L228.26 903.82 L236.51 903.06 L244.77 902.25 L253.02 901.37 L261.28 900.43 L269.53 899.43 L277.79 898.36 L286.04 897.24 L294.3 896.06 L302.55 894.82 L310.81 893.51 L319.06 892.15 L327.32 890.72 L335.57 889.24 L343.83 887.69 L352.09 886.08 L360.34 884.41 L368.6 882.68 L376.85 880.9 L385.11 879.05 L393.36 877.13 L401.62 875.16 L409.87 873.13 L418.12 871.04 L426.38 868.89 L434.63 866.67 L442.89 864.4 L451.14 862.06 L459.4 859.67 L467.66 857.21 L475.91 854.69 L484.17 852.11 L492.42 849.48 L500.68 846.78 L508.93 844.02 L517.18 841.2 L525.44 838.31 L533.69 835.37 L541.95 832.37 L550.2 829.31 L558.46 826.18 L566.71 823 L574.97 819.75 L583.22 816.45 L591.48 813.08 L599.73 809.65 L607.99 806.17 L616.24 802.62 L624.5 799.01" fill="none" stroke="#F4A460" stroke-width="4.7" stroke-linecap="round" stroke-linejoin="round"/>
<path d="M129.2 946.46 L137.45 946.41 L145.71 946.25 L153.96 946 L162.22 945.64 L170.47 945.17 L178.73 944.6 L186.98 943.93 L195.24 943.16 L203.5 942.28 L211.75 941.3 L220 940.22 L228.26 939.03 L236.51 937.74 L244.77 936.35 L253.02 934.85 L261.28 933.25 L269.53 931.55 L277.79 929.75 L286.04 927.84 L294.3 925.83 L302.55 923.71 L310.81 921.49 L319.06 919.17 L327.32 916.75 L335.57 914.22 L343.83 911.59 L352.09 908.85 L360.34 906.01 L368.6 903.07 L376.85 900.03 L385.11 896.88 L393.36 893.63 L401.62 890.28 L409.87 886.82 L418.12 883.26 L426.38 879.6 L434.63 875.84 L442.89 871.97 L451.14 867.99 L459.4 863.92 L467.66 859.74 L475.91 855.46 L484.17 851.07 L492.42 846.58 L500.68 841.99 L508.93 837.3 L517.18 832.5 L525.44 827.6 L533.69 822.59 L541.95 817.49 L550.2 812.28 L558.46 806.96 L566.71 801.55 L574.97 796.03 L583.22 790.4 L591.48 784.68 L599.73 778.85 L607.99 772.91 L616.24 766.88 L624.5 760.74" fill="none" stroke="#0000FF" stroke-width="4.7" stroke-linecap="round" stroke-linejoin="round"/>
<path d="M129.2 989.87 L137.45 989.8 L145.71 989.57 L153.96 989.19 L162.22 988.66 L170.47 987.98 L178.73 987.15 L186.98 986.16 L195.24 985.03 L203.5 983.74 L211.75 982.3 L220 980.71 L228.26 978.97 L236.51 977.08 L244.77 975.03 L253.02 972.84 L261.28 970.49 L269.53 967.99 L277.79 965.34 L286.04 962.54 L294.3 959.59 L302.55 956.49 L310.81 953.23 L319.06 949.82 L327.32 946.26 L335.57 942.56 L343.83 938.69 L352.09 934.68 L360.34 930.52 L368.6 926.2 L376.85 921.74 L385.11 917.12 L393.36 912.35 L401.62 907.43 L409.87 902.36 L418.12 897.13 L426.38 891.76 L434.63 886.23 L442.89 880.55 L451.14 874.72 L459.4 868.74 L467.66 862.61 L475.91 856.33 L484.17 849.89 L492.42 843.3 L500.68 836.57 L508.93 829.68 L517.18 822.64 L525.44 815.44 L533.69 808.1 L541.95 800.61 L550.2 792.96 L558.46 785.16 L566.71 777.21 L574.97 769.11 L583.22 760.86 L591.48 752.46 L599.73 743.9 L607.99 735.19 L616.24 726.34 L624.5 717.33" fill="none" stroke="#AE7ADD" stroke-width="4.7" stroke-linecap="round" stroke-linejoin="round"/>
<path d="M129.2 1031.32 L137.45 1031.23 L145.71 1030.93 L153.96 1030.44 L162.22 1029.75 L170.47 1028.86 L178.73 1027.77 L186.98 1026.49 L195.24 1025.01 L203.5 1023.33 L211.75 1021.45 L220 1019.38 L228.26 1017.11 L236.51 1014.64 L244.77 1011.97 L253.02 1009.11 L261.28 1006.05 L269.53 1002.79 L277.79 999.33 L286.04 995.68 L294.3 991.83 L302.55 987.78 L310.81 983.54 L319.06 979.09 L327.32 974.45 L335.57 969.61 L343.83 964.58 L352.09 959.35 L360.34 953.92 L368.6 948.29 L376.85 942.46 L385.11 936.44 L393.36 930.22 L401.62 923.8 L409.87 917.19 L418.12 910.37 L426.38 903.36 L434.63 896.16 L442.89 888.75 L451.14 881.15 L459.4 873.35 L467.66 865.35 L475.91 857.15 L484.17 848.76 L492.42 840.17 L500.68 831.38 L508.93 822.4 L517.18 813.22 L525.44 803.84 L533.69 794.26 L541.95 784.48 L550.2 774.51 L558.46 764.34 L566.71 753.98 L574.97 743.41 L583.22 732.65 L591.48 721.69 L599.73 710.53 L607.99 699.18 L616.24 687.62 L624.5 675.88" fill="none" stroke="#C99700" stroke-width="4.7" stroke-linecap="round" stroke-linejoin="round"/>
<path d="M129.2 1051.56 L137.45 1051.45 L145.71 1051.12 L153.96 1050.57 L162.22 1049.8 L170.47 1048.81 L178.73 1047.6 L186.98 1046.17 L195.24 1044.52 L203.5 1042.65 L211.75 1040.56 L220 1038.25 L228.26 1035.72 L236.51 1032.98 L244.77 1030.01 L253.02 1026.82 L261.28 1023.41 L269.53 1019.78 L277.79 1015.93 L286.04 1011.86 L294.3 1007.57 L302.55 1003.06 L310.81 998.33 L319.06 993.38 L327.32 988.21 L335.57 982.82 L343.83 977.22 L352.09 971.39 L360.34 965.34 L368.6 959.07 L376.85 952.58 L385.11 945.87 L393.36 938.94 L401.62 931.79 L409.87 924.43 L418.12 916.84 L426.38 909.03 L434.63 901 L442.89 892.75 L451.14 884.28 L459.4 875.6 L467.66 866.69 L475.91 857.56 L484.17 848.21 L492.42 838.64 L500.68 828.85 L508.93 818.85 L517.18 808.62 L525.44 798.17 L533.69 787.5 L541.95 776.61 L550.2 765.51 L558.46 754.18 L566.71 742.63 L574.97 730.86 L583.22 718.88 L591.48 706.67 L599.73 694.24 L607.99 681.59 L616.24 668.73 L624.5 655.64" fill="none" stroke="#3CB371" stroke-width="4.7" stroke-linecap="round" stroke-linejoin="round"/>
<path d="M129.2 1054.66 L137.45 1054.55 L145.71 1054.22 L153.96 1053.66 L162.22 1052.88 L170.47 1051.87 L178.73 1050.64 L186.98 1049.19 L195.24 1047.51 L203.5 1045.61 L211.75 1043.49 L220 1041.15 L228.26 1038.58 L236.51 1035.78 L244.77 1032.77 L253.02 1029.53 L261.28 1026.07 L269.53 1022.38 L277.79 1018.47 L286.04 1014.34 L294.3 1009.98 L302.55 1005.4 L310.81 1000.6 L319.06 995.57 L327.32 990.32 L335.57 984.85 L343.83 979.15 L352.09 973.23 L360.34 967.09 L368.6 960.72 L376.85 954.13 L385.11 947.32 L393.36 940.28 L401.62 933.02 L409.87 925.54 L418.12 917.83 L426.38 909.9 L434.63 901.74 L442.89 893.37 L451.14 884.76 L459.4 875.94 L467.66 866.89 L475.91 857.62 L484.17 848.13 L492.42 838.41 L500.68 828.47 L508.93 818.3 L517.18 807.91 L525.44 797.3 L533.69 786.47 L541.95 775.41 L550.2 764.13 L558.46 752.62 L566.71 740.89 L574.97 728.94 L583.22 716.77 L591.48 704.37 L599.73 691.74 L607.99 678.9 L616.24 665.83 L624.5 652.54" fill="none" stroke="#00FFFF" stroke-width="4.7" stroke-linecap="round" stroke-linejoin="round"/>
<path d="M129.2 1055.48 L137.45 1055.37 L145.71 1055.03 L153.96 1054.47 L162.22 1053.68 L170.47 1052.67 L178.73 1051.44 L186.98 1049.98 L195.24 1048.3 L203.5 1046.39 L211.75 1044.26 L220 1041.91 L228.26 1039.33 L236.51 1036.52 L244.77 1033.5 L253.02 1030.24 L261.28 1026.77 L269.53 1023.07 L277.79 1019.14 L286.04 1014.99 L294.3 1010.62 L302.55 1006.02 L310.81 1001.2 L319.06 996.15 L327.32 990.88 L335.57 985.38 L343.83 979.66 L352.09 973.72 L360.34 967.55 L368.6 961.16 L376.85 954.54 L385.11 947.7 L393.36 940.63 L401.62 933.34 L409.87 925.83 L418.12 918.09 L426.38 910.13 L434.63 901.94 L442.89 893.53 L451.14 884.89 L459.4 876.03 L467.66 866.95 L475.91 857.64 L484.17 848.1 L492.42 838.35 L500.68 828.37 L508.93 818.16 L517.18 807.73 L525.44 797.07 L533.69 786.2 L541.95 775.09 L550.2 763.76 L558.46 752.21 L566.71 740.44 L574.97 728.44 L583.22 716.21 L591.48 703.76 L599.73 691.09 L607.99 678.19 L616.24 665.07 L624.5 651.72" fill="none" stroke="#FF0000" stroke-width="4.7" stroke-linecap="round" stroke-linejoin="round" stroke-dasharray="17.5 24.95"/>
<rect x="104.65" y="624.65" width="568.9" height="457.7" fill="none" stroke="#000" stroke-width="4.7"/>
<line x1="129.2" y1="1080.5" x2="129.2" y2="1073.5" stroke="#000" stroke-width="4.5"/>
<text x="129.2" y="1116.45" font-size="31" text-anchor="middle">0.0</text>
<line x1="228.26" y1="1080.5" x2="228.26" y2="1073.5" stroke="#000" stroke-width="4.5"/>
<text x="228.26" y="1116.45" font-size="31" text-anchor="middle">0.2</text>
<line x1="327.32" y1="1080.5" x2="327.32" y2="1073.5" stroke="#000" stroke-width="4.5"/>
<text x="327.32" y="1116.45" font-size="31" text-anchor="middle">0.4</text>
<line x1="426.38" y1="1080.5" x2="426.38" y2="1073.5" stroke="#000" stroke-width="4.5"/>
<text x="426.38" y="1116.45" font-size="31" text-anchor="middle">0.6</text>
<line x1="525.44" y1="1080.5" x2="525.44" y2="1073.5" stroke="#000" stroke-width="4.5"/>
<text x="525.44" y="1116.45" font-size="31" text-anchor="middle">0.8</text>
<line x1="624.5" y1="1080.5" x2="624.5" y2="1073.5" stroke="#000" stroke-width="4.5"/>
<text x="624.5" y="1116.45" font-size="31" text-anchor="middle">1.0</text>
<line x1="106.5" y1="657.76" x2="113.5" y2="657.76" stroke="#000" stroke-width="4.5"/>
<text x="94.6" y="667.56" font-size="31" text-anchor="end">1.2</text>
<line x1="106.5" y1="755.68" x2="113.5" y2="755.68" stroke="#000" stroke-width="4.5"/>
<text x="94.6" y="765.48" font-size="31" text-anchor="end">0.6</text>
<line x1="106.5" y1="853.6" x2="113.5" y2="853.6" stroke="#000" stroke-width="4.5"/>
<text x="94.6" y="863.4" font-size="31" text-anchor="end">0.0</text>
<line x1="106.5" y1="951.52" x2="113.5" y2="951.52" stroke="#000" stroke-width="4.5"/>
<text x="94.6" y="961.32" font-size="31" text-anchor="end">-0.6</text>
<line x1="106.5" y1="1049.44" x2="113.5" y2="1049.44" stroke="#000" stroke-width="4.5"/>
<text x="94.6" y="1059.24" font-size="31" text-anchor="end">-1.2</text>
</g>
<g id="panel-e">
<path d="M826.55 852.97 L834.82 852.97 L843.1 852.97 L851.37 852.97 L859.64 852.97 L867.92 852.97 L876.19 852.97 L884.46 852.97 L892.74 852.97 L901.01 852.97 L909.28 852.97 L917.56 852.97 L925.83 852.97 L934.1 852.97 L942.38 852.97 L950.65 852.97 L958.92 852.97 L967.2 852.97 L975.47 852.97 L983.74 852.97 L992.02 852.97 L1000.29 852.97 L1008.56 852.97 L1016.84 852.97 L1025.11 852.97 L1033.38 852.97 L1041.66 852.97 L1049.93 852.97 L1058.2 852.97 L1066.48 852.97 L1074.75 852.97 L1083.02 852.97 L1091.3 852.97 L1099.57 852.97 L1107.84 852.97 L1116.12 852.97 L1124.39 852.97 L1132.66 852.97 L1140.94 852.97 L1149.21 852.97 L1157.48 852.97 L1165.76 852.97 L1174.03 852.97 L1182.3 852.97 L1190.58 852.97 L1198.85 852.97 L1207.12 852.97 L1215.4 852.97 L1223.67 852.97 L1231.94 852.97 L1240.22 852.97 L1248.49 852.97 L1256.76 852.97 L1265.04 852.97 L1273.31 852.97 L1281.58 852.97 L1289.86 852.97 L1298.13 852.97 L1306.4 852.97 L1314.68 852.97 L1322.95 852.97" fill="none" stroke="#555555" stroke-width="4.7" stroke-linecap="round" stroke-linejoin="round"/>
<path d="M826.55 881.14 L834.82 881.12 L843.1 881.07 L851.37 881 L859.64 880.89 L867.92 880.75 L876.19 880.57 L884.46 880.37 L892.74 880.14 L901.01 879.87 L909.28 879.57 L917.56 879.24 L925.83 878.88 L934.1 878.49 L942.38 878.07 L950.65 877.62 L958.92 877.13 L967.2 876.61 L975.47 876.07 L983.74 875.49 L992.02 874.88 L1000.29 874.24 L1008.56 873.56 L1016.84 872.86 L1025.11 872.12 L1033.38 871.36 L1041.66 870.56 L1049.93 869.73 L1058.2 868.87 L1066.48 867.98 L1074.75 867.05 L1083.02 866.1 L1091.3 865.11 L1099.57 864.1 L1107.84 863.05 L1116.12 861.97 L1124.39 860.86 L1132.66 859.71 L1140.94 858.54 L1149.21 857.34 L1157.48 856.1 L1165.76 854.83 L1174.03 853.53 L1182.3 852.2 L1190.58 850.84 L1198.85 849.45 L1207.12 848.03 L1215.4 846.57 L1223.67 845.08 L1231.94 843.57 L1240.22 842.02 L1248.49 840.44 L1256.76 838.82 L1265.04 837.18 L1273.31 835.51 L1281.58 833.8 L1289.86 832.06 L1298.13 830.3 L1306.4 828.5 L1314.68 826.67 L1322.95 824.8" fill="none" stroke="#FFB0DC" stroke-width="4.7" stroke-linecap="round" stroke-linejoin="round"/>
<path d="M826.55 916.46 L834.82 916.42 L843.1 916.32 L851.37 916.14 L859.64 915.9 L867.92 915.58 L876.19 915.19 L884.46 914.73 L892.74 914.2 L901.01 913.6 L909.28 912.93 L917.56 912.19 L925.83 911.38 L934.1 910.5 L942.38 909.55 L950.65 908.52 L958.92 907.43 L967.2 906.27 L975.47 905.03 L983.74 903.73 L992.02 902.35 L1000.29 900.91 L1008.56 899.39 L1016.84 897.8 L1025.11 896.14 L1033.38 894.42 L1041.66 892.62 L1049.93 890.75 L1058.2 888.81 L1066.48 886.8 L1074.75 884.72 L1083.02 882.56 L1091.3 880.34 L1099.57 878.05 L1107.84 875.69 L1116.12 873.25 L1124.39 870.75 L1132.66 868.17 L1140.94 865.53 L1149.21 862.81 L1157.48 860.02 L1165.76 857.17 L1174.03 854.24 L1182.3 851.24 L1190.58 848.17 L1198.85 845.03 L1207.12 841.82 L1215.4 838.54 L1223.67 835.19 L1231.94 831.77 L1240.22 828.28 L1248.49 824.72 L1256.76 821.08 L1265.04 817.38 L1273.31 813.61 L1281.58 809.76 L1289.86 805.85 L1298.13 801.86 L1306.4 797.8 L1314.68 793.68 L1322.95 789.48" fill="none" stroke="#F4A460" stroke-width="4.7" stroke-linecap="round" stroke-linejoin="round"/>
<path d="M826.55 964.04 L834.82 963.97 L843.1 963.79 L851.37 963.48 L859.64 963.05 L867.92 962.49 L876.19 961.81 L884.46 961.01 L892.74 960.09 L901.01 959.04 L909.28 957.86 L917.56 956.57 L925.83 955.15 L934.1 953.61 L942.38 951.94 L950.65 950.15 L958.92 948.24 L967.2 946.2 L975.47 944.04 L983.74 941.76 L992.02 939.35 L1000.29 936.82 L1008.56 934.17 L1016.84 931.39 L1025.11 928.49 L1033.38 925.47 L1041.66 922.32 L1049.93 919.05 L1058.2 915.66 L1066.48 912.14 L1074.75 908.5 L1083.02 904.74 L1091.3 900.85 L1099.57 896.84 L1107.84 892.71 L1116.12 888.45 L1124.39 884.07 L1132.66 879.56 L1140.94 874.94 L1149.21 870.19 L1157.48 865.31 L1165.76 860.31 L1174.03 855.19 L1182.3 849.95 L1190.58 844.58 L1198.85 839.09 L1207.12 833.47 L1215.4 827.73 L1223.67 821.87 L1231.94 815.89 L1240.22 809.78 L1248.49 803.55 L1256.76 797.19 L1265.04 790.71 L1273.31 784.11 L1281.58 777.38 L1289.86 770.54 L1298.13 763.56 L1306.4 756.47 L1314.68 749.25 L1322.95 741.9" fill="none" stroke="#0000FF" stroke-width="4.7" stroke-linecap="round" stroke-linejoin="round"/>
<path d="M826.55 1009.15 L834.82 1009.06 L843.1 1008.8 L851.37 1008.37 L859.64 1007.76 L867.92 1006.98 L876.19 1006.02 L884.46 1004.9 L892.74 1003.6 L901.01 1002.12 L909.28 1000.47 L917.56 998.65 L925.83 996.65 L934.1 994.48 L942.38 992.14 L950.65 989.63 L958.92 986.94 L967.2 984.07 L975.47 981.04 L983.74 977.83 L992.02 974.44 L1000.29 970.88 L1008.56 967.15 L1016.84 963.25 L1025.11 959.17 L1033.38 954.92 L1041.66 950.49 L1049.93 945.9 L1058.2 941.12 L1066.48 936.18 L1074.75 931.06 L1083.02 925.77 L1091.3 920.3 L1099.57 914.66 L1107.84 908.85 L1116.12 902.86 L1124.39 896.7 L1132.66 890.37 L1140.94 883.86 L1149.21 877.18 L1157.48 870.32 L1165.76 863.3 L1174.03 856.09 L1182.3 848.72 L1190.58 841.17 L1198.85 833.45 L1207.12 825.55 L1215.4 817.48 L1223.67 809.24 L1231.94 800.82 L1240.22 792.23 L1248.49 783.47 L1256.76 774.53 L1265.04 765.42 L1273.31 756.14 L1281.58 746.68 L1289.86 737.05 L1298.13 727.25 L1306.4 717.27 L1314.68 707.12 L1322.95 696.79" fill="none" stroke="#AE7ADD" stroke-width="4.7" stroke-linecap="round" stroke-linejoin="round"/>
<path d="M826.55 1041.44 L834.82 1041.33 L843.1 1041.02 L851.37 1040.49 L859.64 1039.76 L867.92 1038.82 L876.19 1037.67 L884.46 1036.31 L892.74 1034.74 L901.01 1032.96 L909.28 1030.97 L917.56 1028.77 L925.83 1026.36 L934.1 1023.74 L942.38 1020.92 L950.65 1017.88 L958.92 1014.63 L967.2 1011.18 L975.47 1007.51 L983.74 1003.64 L992.02 999.56 L1000.29 995.26 L1008.56 990.76 L1016.84 986.05 L1025.11 981.13 L1033.38 976 L1041.66 970.66 L1049.93 965.11 L1058.2 959.35 L1066.48 953.38 L1074.75 947.2 L1083.02 940.82 L1091.3 934.22 L1099.57 927.41 L1107.84 920.4 L1116.12 913.17 L1124.39 905.74 L1132.66 898.1 L1140.94 890.24 L1149.21 882.18 L1157.48 873.91 L1165.76 865.43 L1174.03 856.74 L1182.3 847.84 L1190.58 838.73 L1198.85 829.41 L1207.12 819.88 L1215.4 810.15 L1223.67 800.2 L1231.94 790.04 L1240.22 779.68 L1248.49 769.1 L1256.76 758.32 L1265.04 747.32 L1273.31 736.12 L1281.58 724.71 L1289.86 713.09 L1298.13 701.25 L1306.4 689.21 L1314.68 676.96 L1322.95 664.5" fill="none" stroke="#C99700" stroke-width="4.7" stroke-linecap="round" stroke-linejoin="round"/>
<path d="M826.55 1050.6 L834.82 1050.49 L843.1 1050.16 L851.37 1049.61 L859.64 1048.84 L867.92 1047.85 L876.19 1046.64 L884.46 1045.22 L892.74 1043.57 L901.01 1041.7 L909.28 1039.62 L917.56 1037.31 L925.83 1034.79 L934.1 1032.04 L942.38 1029.08 L950.65 1025.89 L958.92 1022.49 L967.2 1018.87 L975.47 1015.02 L983.74 1010.96 L992.02 1006.68 L1000.29 1002.18 L1008.56 997.46 L1016.84 992.52 L1025.11 987.36 L1033.38 981.98 L1041.66 976.38 L1049.93 970.56 L1058.2 964.52 L1066.48 958.26 L1074.75 951.78 L1083.02 945.09 L1091.3 938.17 L1099.57 931.03 L1107.84 923.68 L1116.12 916.1 L1124.39 908.31 L1132.66 900.29 L1140.94 892.06 L1149.21 883.6 L1157.48 874.93 L1165.76 866.04 L1174.03 856.92 L1182.3 847.59 L1190.58 838.04 L1198.85 828.27 L1207.12 818.28 L1215.4 808.06 L1223.67 797.63 L1231.94 786.98 L1240.22 776.12 L1248.49 765.03 L1256.76 753.72 L1265.04 742.19 L1273.31 730.44 L1281.58 718.47 L1289.86 706.29 L1298.13 693.88 L1306.4 681.25 L1314.68 668.41 L1322.95 655.34" fill="none" stroke="#3CB371" stroke-width="4.7" stroke-linecap="round" stroke-linejoin="round"/>
<path d="M826.55 1051.51 L834.82 1051.4 L843.1 1051.07 L851.37 1050.52 L859.64 1049.75 L867.92 1048.76 L876.19 1047.54 L884.46 1046.11 L892.74 1044.45 L901.01 1042.58 L909.28 1040.48 L917.56 1038.17 L925.83 1035.63 L934.1 1032.87 L942.38 1029.89 L950.65 1026.7 L958.92 1023.28 L967.2 1019.64 L975.47 1015.78 L983.74 1011.69 L992.02 1007.39 L1000.29 1002.87 L1008.56 998.13 L1016.84 993.16 L1025.11 987.98 L1033.38 982.57 L1041.66 976.95 L1049.93 971.1 L1058.2 965.04 L1066.48 958.75 L1074.75 952.24 L1083.02 945.51 L1091.3 938.56 L1099.57 931.39 L1107.84 924 L1116.12 916.39 L1124.39 908.56 L1132.66 900.51 L1140.94 892.24 L1149.21 883.74 L1157.48 875.03 L1165.76 866.1 L1174.03 856.94 L1182.3 847.57 L1190.58 837.97 L1198.85 828.15 L1207.12 818.11 L1215.4 807.86 L1223.67 797.38 L1231.94 786.68 L1240.22 775.76 L1248.49 764.62 L1256.76 753.26 L1265.04 741.68 L1273.31 729.87 L1281.58 717.85 L1289.86 705.61 L1298.13 693.14 L1306.4 680.46 L1314.68 667.55 L1322.95 654.43" fill="none" stroke="#FF0000" stroke-width="4.7" stroke-linecap="round" stroke-linejoin="round" stroke-dasharray="17.5 24.95"/>
<rect x="801.55" y="623.6" width="570.95" height="458.05" fill="none" stroke="#000" stroke-width="4.7"/>
<line x1="826.55" y1="1079.8" x2="826.55" y2="1072.8" stroke="#000" stroke-width="4.5"/>
<text x="826.55" y="1115.75" font-size="31" text-anchor="middle">0.0</text>
<line x1="925.83" y1="1079.8" x2="925.83" y2="1072.8" stroke="#000" stroke-width="4.5"/>
<text x="925.83" y="1115.75" font-size="31" text-anchor="middle">0.2</text>
<line x1="1025.11" y1="1079.8" x2="1025.11" y2="1072.8" stroke="#000" stroke-width="4.5"/>
<text x="1025.11" y="1115.75" font-size="31" text-anchor="middle">0.4</text>
<line x1="1124.39" y1="1079.8" x2="1124.39" y2="1072.8" stroke="#000" stroke-width="4.5"/>
<text x="1124.39" y="1115.75" font-size="31" text-anchor="middle">0.6</text>
<line x1="1223.67" y1="1079.8" x2="1223.67" y2="1072.8" stroke="#000" stroke-width="4.5"/>
<text x="1223.67" y="1115.75" font-size="31" text-anchor="middle">0.8</text>
<line x1="1322.95" y1="1079.8" x2="1322.95" y2="1072.8" stroke="#000" stroke-width="4.5"/>
<text x="1322.95" y="1115.75" font-size="31" text-anchor="middle">1.0</text>
<line x1="803.4" y1="646.87" x2="810.4" y2="646.87" stroke="#000" stroke-width="4.5"/>
<text x="792.6" y="656.67" font-size="31" text-anchor="end">1.8</text>
<line x1="803.4" y1="715.57" x2="810.4" y2="715.57" stroke="#000" stroke-width="4.5"/>
<text x="792.6" y="725.37" font-size="31" text-anchor="end">1.2</text>
<line x1="803.4" y1="784.27" x2="810.4" y2="784.27" stroke="#000" stroke-width="4.5"/>
<text x="792.6" y="794.07" font-size="31" text-anchor="end">0.6</text>
<line x1="803.4" y1="852.97" x2="810.4" y2="852.97" stroke="#000" stroke-width="4.5"/>
<text x="792.6" y="862.77" font-size="31" text-anchor="end">0.0</text>
<line x1="803.4" y1="921.67" x2="810.4" y2="921.67" stroke="#000" stroke-width="4.5"/>
<text x="792.6" y="931.47" font-size="31" text-anchor="end">-0.6</text>
<line x1="803.4" y1="990.37" x2="810.4" y2="990.37" stroke="#000" stroke-width="4.5"/>
<text x="792.6" y="1000.17" font-size="31" text-anchor="end">-1.2</text>
<line x1="803.4" y1="1059.07" x2="810.4" y2="1059.07" stroke="#000" stroke-width="4.5"/>
<text x="792.6" y="1068.87" font-size="31" text-anchor="end">-1.8</text>
</g>
<g id="panel-f">
<path d="M1525.05 854.1 L1533.27 854.1 L1541.5 854.1 L1549.72 854.1 L1557.95 854.1 L1566.17 854.1 L1574.39 854.1 L1582.62 854.1 L1590.84 854.1 L1599.07 854.1 L1607.29 854.1 L1615.52 854.1 L1623.74 854.1 L1631.96 854.1 L1640.19 854.1 L1648.41 854.1 L1656.64 854.1 L1664.86 854.1 L1673.09 854.1 L1681.31 854.1 L1689.53 854.1 L1697.76 854.1 L1705.98 854.1 L1714.21 854.1 L1722.43 854.1 L1730.65 854.1 L1738.88 854.1 L1747.1 854.1 L1755.33 854.1 L1763.55 854.1 L1771.78 854.1 L1780 854.1 L1788.22 854.1 L1796.45 854.1 L1804.67 854.1 L1812.9 854.1 L1821.12 854.1 L1829.34 854.1 L1837.57 854.1 L1845.79 854.1 L1854.02 854.1 L1862.24 854.1 L1870.46 854.1 L1878.69 854.1 L1886.91 854.1 L1895.14 854.1 L1903.36 854.1 L1911.59 854.1 L1919.81 854.1 L1928.03 854.1 L1936.26 854.1 L1944.48 854.1 L1952.71 854.1 L1960.93 854.1 L1969.15 854.1 L1977.38 854.1 L1985.6 854.1 L1993.83 854.1 L2002.05 854.1 L2010.28 854.1 L2018.5 854.1" fill="none" stroke="#555555" stroke-width="4.7" stroke-linecap="round" stroke-linejoin="round"/>
<path d="M1525.05 883.54 L1533.27 883.52 L1541.5 883.47 L1549.72 883.39 L1557.95 883.28 L1566.17 883.13 L1574.39 882.95 L1582.62 882.74 L1590.84 882.49 L1599.07 882.21 L1607.29 881.9 L1615.52 881.56 L1623.74 881.18 L1631.96 880.78 L1640.19 880.33 L1648.41 879.86 L1656.64 879.35 L1664.86 878.81 L1673.09 878.24 L1681.31 877.64 L1689.53 877 L1697.76 876.33 L1705.98 875.62 L1714.21 874.89 L1722.43 874.12 L1730.65 873.32 L1738.88 872.48 L1747.1 871.62 L1755.33 870.72 L1763.55 869.78 L1771.78 868.82 L1780 867.82 L1788.22 866.79 L1796.45 865.73 L1804.67 864.63 L1812.9 863.5 L1821.12 862.34 L1829.34 861.15 L1837.57 859.92 L1845.79 858.66 L1854.02 857.37 L1862.24 856.05 L1870.46 854.69 L1878.69 853.3 L1886.91 851.88 L1895.14 850.42 L1903.36 848.93 L1911.59 847.41 L1919.81 845.86 L1928.03 844.27 L1936.26 842.65 L1944.48 841 L1952.71 839.31 L1960.93 837.6 L1969.15 835.85 L1977.38 834.06 L1985.6 832.25 L1993.83 830.4 L2002.05 828.52 L2010.28 826.61 L2018.5 824.66" fill="none" stroke="#FFB0DC" stroke-width="4.7" stroke-linecap="round" stroke-linejoin="round"/>
<path d="M1525.05 920.61 L1533.27 920.57 L1541.5 920.46 L1549.72 920.28 L1557.95 920.02 L1566.17 919.68 L1574.39 919.28 L1582.62 918.8 L1590.84 918.24 L1599.07 917.62 L1607.29 916.91 L1615.52 916.14 L1623.74 915.29 L1631.96 914.36 L1640.19 913.37 L1648.41 912.29 L1656.64 911.15 L1664.86 909.93 L1673.09 908.64 L1681.31 907.27 L1689.53 905.83 L1697.76 904.31 L1705.98 902.73 L1714.21 901.06 L1722.43 899.33 L1730.65 897.52 L1738.88 895.63 L1747.1 893.67 L1755.33 891.64 L1763.55 889.53 L1771.78 887.35 L1780 885.1 L1788.22 882.77 L1796.45 880.37 L1804.67 877.9 L1812.9 875.35 L1821.12 872.72 L1829.34 870.03 L1837.57 867.25 L1845.79 864.41 L1854.02 861.49 L1862.24 858.5 L1870.46 855.43 L1878.69 852.29 L1886.91 849.07 L1895.14 845.79 L1903.36 842.42 L1911.59 838.99 L1919.81 835.48 L1928.03 831.89 L1936.26 828.24 L1944.48 824.5 L1952.71 820.7 L1960.93 816.82 L1969.15 812.86 L1977.38 808.84 L1985.6 804.74 L1993.83 800.56 L2002.05 796.31 L2010.28 791.99 L2018.5 787.59" fill="none" stroke="#F4A460" stroke-width="4.7" stroke-linecap="round" stroke-linejoin="round"/>
<path d="M1525.05 970.35 L1533.27 970.29 L1541.5 970.1 L1549.72 969.77 L1557.95 969.32 L1566.17 968.74 L1574.39 968.03 L1582.62 967.19 L1590.84 966.22 L1599.07 965.12 L1607.29 963.9 L1615.52 962.54 L1623.74 961.05 L1631.96 959.44 L1640.19 957.7 L1648.41 955.82 L1656.64 953.82 L1664.86 951.69 L1673.09 949.43 L1681.31 947.04 L1689.53 944.52 L1697.76 941.87 L1705.98 939.1 L1714.21 936.19 L1722.43 933.15 L1730.65 929.99 L1738.88 926.69 L1747.1 923.27 L1755.33 919.72 L1763.55 916.04 L1771.78 912.23 L1780 908.29 L1788.22 904.22 L1796.45 900.02 L1804.67 895.69 L1812.9 891.24 L1821.12 886.65 L1829.34 881.94 L1837.57 877.09 L1845.79 872.12 L1854.02 867.02 L1862.24 861.79 L1870.46 856.43 L1878.69 850.94 L1886.91 845.32 L1895.14 839.57 L1903.36 833.69 L1911.59 827.68 L1919.81 821.55 L1928.03 815.28 L1936.26 808.89 L1944.48 802.37 L1952.71 795.71 L1960.93 788.93 L1969.15 782.02 L1977.38 774.98 L1985.6 767.81 L1993.83 760.51 L2002.05 753.09 L2010.28 745.53 L2018.5 737.85" fill="none" stroke="#0000FF" stroke-width="4.7" stroke-linecap="round" stroke-linejoin="round"/>
<path d="M1525.05 1017.76 L1533.27 1017.67 L1541.5 1017.39 L1549.72 1016.94 L1557.95 1016.3 L1566.17 1015.48 L1574.39 1014.48 L1582.62 1013.3 L1590.84 1011.94 L1599.07 1010.39 L1607.29 1008.67 L1615.52 1006.76 L1623.74 1004.67 L1631.96 1002.39 L1640.19 999.94 L1648.41 997.3 L1656.64 994.48 L1664.86 991.48 L1673.09 988.3 L1681.31 984.94 L1689.53 981.39 L1697.76 977.66 L1705.98 973.75 L1714.21 969.66 L1722.43 965.39 L1730.65 960.93 L1738.88 956.3 L1747.1 951.48 L1755.33 946.48 L1763.55 941.29 L1771.78 935.93 L1780 930.38 L1788.22 924.65 L1796.45 918.74 L1804.67 912.65 L1812.9 906.38 L1821.12 899.92 L1829.34 893.29 L1837.57 886.47 L1845.79 879.47 L1854.02 872.28 L1862.24 864.92 L1870.46 857.37 L1878.69 849.64 L1886.91 841.73 L1895.14 833.64 L1903.36 825.37 L1911.59 816.91 L1919.81 808.28 L1928.03 799.46 L1936.26 790.46 L1944.48 781.27 L1952.71 771.91 L1960.93 762.36 L1969.15 752.63 L1977.38 742.72 L1985.6 732.63 L1993.83 722.36 L2002.05 711.9 L2010.28 701.26 L2018.5 690.44" fill="none" stroke="#AE7ADD" stroke-width="4.7" stroke-linecap="round" stroke-linejoin="round"/>
<path d="M1525.05 1051.88 L1533.27 1051.77 L1541.5 1051.44 L1549.72 1050.89 L1557.95 1050.13 L1566.17 1049.14 L1574.39 1047.93 L1582.62 1046.5 L1590.84 1044.85 L1599.07 1042.98 L1607.29 1040.9 L1615.52 1038.59 L1623.74 1036.06 L1631.96 1033.31 L1640.19 1030.35 L1648.41 1027.16 L1656.64 1023.75 L1664.86 1020.13 L1673.09 1016.28 L1681.31 1012.22 L1689.53 1007.93 L1697.76 1003.43 L1705.98 998.7 L1714.21 993.76 L1722.43 988.59 L1730.65 983.21 L1738.88 977.6 L1747.1 971.78 L1755.33 965.74 L1763.55 959.47 L1771.78 952.99 L1780 946.29 L1788.22 939.37 L1796.45 932.22 L1804.67 924.86 L1812.9 917.28 L1821.12 909.48 L1829.34 901.46 L1837.57 893.22 L1845.79 884.76 L1854.02 876.08 L1862.24 867.18 L1870.46 858.06 L1878.69 848.72 L1886.91 839.16 L1895.14 829.38 L1903.36 819.38 L1911.59 809.16 L1919.81 798.72 L1928.03 788.06 L1936.26 777.18 L1944.48 766.09 L1952.71 754.77 L1960.93 743.23 L1969.15 731.47 L1977.38 719.5 L1985.6 707.3 L1993.83 694.88 L2002.05 682.25 L2010.28 669.39 L2018.5 656.32" fill="none" stroke="#C99700" stroke-width="4.7" stroke-linecap="round" stroke-linejoin="round"/>
<path d="M1525.05 1061.5 L1533.27 1061.38 L1541.5 1061.04 L1549.72 1060.46 L1557.95 1059.65 L1566.17 1058.62 L1574.39 1057.35 L1582.62 1055.85 L1590.84 1054.12 L1599.07 1052.16 L1607.29 1049.97 L1615.52 1047.55 L1623.74 1044.9 L1631.96 1042.02 L1640.19 1038.91 L1648.41 1035.57 L1656.64 1032 L1664.86 1028.2 L1673.09 1024.16 L1681.31 1019.9 L1689.53 1015.41 L1697.76 1010.68 L1705.98 1005.73 L1714.21 1000.54 L1722.43 995.13 L1730.65 989.48 L1738.88 983.61 L1747.1 977.5 L1755.33 971.16 L1763.55 964.6 L1771.78 957.8 L1780 950.77 L1788.22 943.51 L1796.45 936.02 L1804.67 928.3 L1812.9 920.35 L1821.12 912.17 L1829.34 903.76 L1837.57 895.12 L1845.79 886.25 L1854.02 877.14 L1862.24 867.81 L1870.46 858.25 L1878.69 848.45 L1886.91 838.43 L1895.14 828.18 L1903.36 817.69 L1911.59 806.97 L1919.81 796.03 L1928.03 784.85 L1936.26 773.45 L1944.48 761.81 L1952.71 749.94 L1960.93 737.84 L1969.15 725.51 L1977.38 712.96 L1985.6 700.17 L1993.83 687.15 L2002.05 673.9 L2010.28 660.42 L2018.5 646.7" fill="none" stroke="#3CB371" stroke-width="4.7" stroke-linecap="round" stroke-linejoin="round"/>
<path d="M1525.05 1062.16 L1533.27 1062.04 L1541.5 1061.69 L1549.72 1061.12 L1557.95 1060.31 L1566.17 1059.27 L1574.39 1058 L1582.62 1056.49 L1590.84 1054.76 L1599.07 1052.79 L1607.29 1050.6 L1615.52 1048.17 L1623.74 1045.51 L1631.96 1042.62 L1640.19 1039.5 L1648.41 1036.15 L1656.64 1032.57 L1664.86 1028.75 L1673.09 1024.71 L1681.31 1020.43 L1689.53 1015.92 L1697.76 1011.18 L1705.98 1006.21 L1714.21 1001.01 L1722.43 995.58 L1730.65 989.92 L1738.88 984.02 L1747.1 977.89 L1755.33 971.54 L1763.55 964.95 L1771.78 958.13 L1780 951.08 L1788.22 943.8 L1796.45 936.28 L1804.67 928.54 L1812.9 920.56 L1821.12 912.36 L1829.34 903.92 L1837.57 895.25 L1845.79 886.35 L1854.02 877.22 L1862.24 867.85 L1870.46 858.26 L1878.69 848.44 L1886.91 838.38 L1895.14 828.09 L1903.36 817.57 L1911.59 806.82 L1919.81 795.84 L1928.03 784.63 L1936.26 773.19 L1944.48 761.51 L1952.71 749.61 L1960.93 737.47 L1969.15 725.1 L1977.38 712.51 L1985.6 699.68 L1993.83 686.61 L2002.05 673.32 L2010.28 659.8 L2018.5 646.04" fill="none" stroke="#FF0000" stroke-width="4.7" stroke-linecap="round" stroke-linejoin="round" stroke-dasharray="17.5 24.82"/>
<rect x="1499.95" y="625.5" width="567.75" height="456.85" fill="none" stroke="#000" stroke-width="4.7"/>
<line x1="1525.05" y1="1080.5" x2="1525.05" y2="1073.5" stroke="#000" stroke-width="4.5"/>
<text x="1525.05" y="1116.45" font-size="31" text-anchor="middle">0.0</text>
<line x1="1623.74" y1="1080.5" x2="1623.74" y2="1073.5" stroke="#000" stroke-width="4.5"/>
<text x="1623.74" y="1116.45" font-size="31" text-anchor="middle">0.2</text>
<line x1="1722.43" y1="1080.5" x2="1722.43" y2="1073.5" stroke="#000" stroke-width="4.5"/>
<text x="1722.43" y="1116.45" font-size="31" text-anchor="middle">0.4</text>
<line x1="1821.12" y1="1080.5" x2="1821.12" y2="1073.5" stroke="#000" stroke-width="4.5"/>
<text x="1821.12" y="1116.45" font-size="31" text-anchor="middle">0.6</text>
<line x1="1919.81" y1="1080.5" x2="1919.81" y2="1073.5" stroke="#000" stroke-width="4.5"/>
<text x="1919.81" y="1116.45" font-size="31" text-anchor="middle">0.8</text>
<line x1="2018.5" y1="1080.5" x2="2018.5" y2="1073.5" stroke="#000" stroke-width="4.5"/>
<text x="2018.5" y="1116.45" font-size="31" text-anchor="middle">1.0</text>
<line x1="1501.8" y1="637.81" x2="1508.8" y2="637.81" stroke="#000" stroke-width="4.5"/>
<text x="1491" y="647.61" font-size="31" text-anchor="end">3.6</text>
<line x1="1501.8" y1="709.91" x2="1508.8" y2="709.91" stroke="#000" stroke-width="4.5"/>
<text x="1491" y="719.71" font-size="31" text-anchor="end">2.4</text>
<line x1="1501.8" y1="782" x2="1508.8" y2="782" stroke="#000" stroke-width="4.5"/>
<text x="1491" y="791.8" font-size="31" text-anchor="end">1.2</text>
<line x1="1501.8" y1="854.1" x2="1508.8" y2="854.1" stroke="#000" stroke-width="4.5"/>
<text x="1491" y="863.9" font-size="31" text-anchor="end">0.0</text>
<line x1="1501.8" y1="926.2" x2="1508.8" y2="926.2" stroke="#000" stroke-width="4.5"/>
<text x="1491" y="936" font-size="31" text-anchor="end">-1.2</text>
<line x1="1501.8" y1="998.29" x2="1508.8" y2="998.29" stroke="#000" stroke-width="4.5"/>
<text x="1491" y="1008.09" font-size="31" text-anchor="end">-2.4</text>
<line x1="1501.8" y1="1070.39" x2="1508.8" y2="1070.39" stroke="#000" stroke-width="4.5"/>
<text x="1491" y="1080.19" font-size="31" text-anchor="end">-3.6</text>
</g>
<g id="legend-a">
<line x1="533.05" y1="172.2" x2="591.85" y2="172.2" stroke="#555555" stroke-width="4.7" stroke-linecap="round"/>
<text x="597.9" y="181.5" font-size="26">0 s</text>
<line x1="533.05" y1="204.84" x2="591.85" y2="204.84" stroke="#FFB0DC" stroke-width="4.7" stroke-linecap="round"/>
<text x="597.9" y="214.14" font-size="26">1 s</text>
<line x1="533.05" y1="237.48" x2="591.85" y2="237.48" stroke="#F4A460" stroke-width="4.7" stroke-linecap="round"/>
<text x="597.9" y="246.78" font-size="26">10 s</text>
<line x1="533.05" y1="270.12" x2="591.85" y2="270.12" stroke="#0000FF" stroke-width="4.7" stroke-linecap="round"/>
<text x="597.9" y="279.42" font-size="26">25 s</text>
<line x1="533.05" y1="302.76" x2="591.85" y2="302.76" stroke="#AE7ADD" stroke-width="4.7" stroke-linecap="round"/>
<text x="597.9" y="312.06" font-size="26">50 s</text>
<line x1="533.05" y1="335.4" x2="591.85" y2="335.4" stroke="#C99700" stroke-width="4.7" stroke-linecap="round"/>
<text x="597.9" y="344.7" font-size="26">100 s</text>
<line x1="533.05" y1="368.04" x2="591.85" y2="368.04" stroke="#008C00" stroke-width="4.7" stroke-linecap="round"/>
<text x="597.9" y="377.34" font-size="26">200 s</text>
<line x1="533.05" y1="400.68" x2="591.85" y2="400.68" stroke="#00FFFF" stroke-width="4.7" stroke-linecap="round"/>
<text x="597.9" y="409.98" font-size="26">1000 s</text>
<line x1="533.05" y1="433.32" x2="591.85" y2="433.32" stroke="#FF0000" stroke-width="4.7" stroke-linecap="round" stroke-dasharray="17.5 24.95"/>
<text x="597.9" y="442.62" font-size="26">7200 s</text>
</g>
<g id="legend-b">
<line x1="1226.75" y1="197.9" x2="1284.65" y2="197.9" stroke="#555555" stroke-width="4.7" stroke-linecap="round"/>
<text x="1291.6" y="207.2" font-size="26">0 s</text>
<line x1="1226.75" y1="230.53" x2="1284.65" y2="230.53" stroke="#FFB0DC" stroke-width="4.7" stroke-linecap="round"/>
<text x="1291.6" y="239.83" font-size="26">1 s</text>
<line x1="1226.75" y1="263.16" x2="1284.65" y2="263.16" stroke="#F4A460" stroke-width="4.7" stroke-linecap="round"/>
<text x="1291.6" y="272.46" font-size="26">10 s</text>
<line x1="1226.75" y1="295.79" x2="1284.65" y2="295.79" stroke="#0000FF" stroke-width="4.7" stroke-linecap="round"/>
<text x="1291.6" y="305.09" font-size="26">25 s</text>
<line x1="1226.75" y1="328.42" x2="1284.65" y2="328.42" stroke="#AE7ADD" stroke-width="4.7" stroke-linecap="round"/>
<text x="1291.6" y="337.72" font-size="26">50 s</text>
<line x1="1226.75" y1="361.05" x2="1284.65" y2="361.05" stroke="#C99700" stroke-width="4.7" stroke-linecap="round"/>
<text x="1291.6" y="370.35" font-size="26">100 s</text>
<line x1="1226.75" y1="393.68" x2="1284.65" y2="393.68" stroke="#008C00" stroke-width="4.7" stroke-linecap="round"/>
<text x="1291.6" y="402.98" font-size="26">200 s</text>
<line x1="1226.75" y1="426.31" x2="1284.65" y2="426.31" stroke="#FF0000" stroke-width="4.7" stroke-linecap="round" stroke-dasharray="17.5 24.95"/>
<text x="1291.6" y="435.61" font-size="26">3600 s</text>
</g>
<g id="legend-c">
<line x1="1920.45" y1="200.4" x2="1978.85" y2="200.4" stroke="#555555" stroke-width="4.7" stroke-linecap="round"/>
<text x="1985.6" y="209.7" font-size="26">0 s</text>
<line x1="1920.45" y1="232.77" x2="1978.85" y2="232.77" stroke="#FFB0DC" stroke-width="4.7" stroke-linecap="round"/>
<text x="1985.6" y="242.07" font-size="26">1 s</text>
<line x1="1920.45" y1="265.14" x2="1978.85" y2="265.14" stroke="#F4A460" stroke-width="4.7" stroke-linecap="round"/>
<text x="1985.6" y="274.44" font-size="26">10 s</text>
<line x1="1920.45" y1="297.51" x2="1978.85" y2="297.51" stroke="#0000FF" stroke-width="4.7" stroke-linecap="round"/>
<text x="1985.6" y="306.81" font-size="26">25 s</text>
<line x1="1920.45" y1="329.88" x2="1978.85" y2="329.88" stroke="#AE7ADD" stroke-width="4.7" stroke-linecap="round"/>
<text x="1985.6" y="339.18" font-size="26">50 s</text>
<line x1="1920.45" y1="362.25" x2="1978.85" y2="362.25" stroke="#C99700" stroke-width="4.7" stroke-linecap="round"/>
<text x="1985.6" y="371.55" font-size="26">100 s</text>
<line x1="1920.45" y1="394.62" x2="1978.85" y2="394.62" stroke="#008C00" stroke-width="4.7" stroke-linecap="round"/>
<text x="1985.6" y="403.92" font-size="26">200 s</text>
<line x1="1920.45" y1="426.99" x2="1978.85" y2="426.99" stroke="#FF0000" stroke-width="4.7" stroke-linecap="round" stroke-dasharray="17.5 24.95"/>
<text x="1985.6" y="436.29" font-size="26">1800 s</text>
</g>
<g id="legend-d">
<line x1="133.25" y1="665.5" x2="191.35" y2="665.5" stroke="#555555" stroke-width="4.7" stroke-linecap="round"/>
<text x="197.8" y="674.8" font-size="26">0 s</text>
<line x1="260.75" y1="665.5" x2="318.25" y2="665.5" stroke="#FFB0DC" stroke-width="4.7" stroke-linecap="round"/>
<text x="325.7" y="674.8" font-size="26">1 s</text>
<line x1="381.35" y1="665.5" x2="439.05" y2="665.5" stroke="#F4A460" stroke-width="4.7" stroke-linecap="round"/>
<text x="446.5" y="674.8" font-size="26">10 s</text>
<line x1="133.25" y1="697.6" x2="191.35" y2="697.6" stroke="#0000FF" stroke-width="4.7" stroke-linecap="round"/>
<text x="197.8" y="706.9" font-size="26">25 s</text>
<line x1="260.75" y1="697.6" x2="318.25" y2="697.6" stroke="#AE7ADD" stroke-width="4.7" stroke-linecap="round"/>
<text x="325.7" y="706.9" font-size="26">50 s</text>
<line x1="381.35" y1="697.6" x2="439.05" y2="697.6" stroke="#C99700" stroke-width="4.7" stroke-linecap="round"/>
<text x="446.5" y="706.9" font-size="26">100 s</text>
<line x1="133.25" y1="730.4" x2="191.35" y2="730.4" stroke="#3CB371" stroke-width="4.7" stroke-linecap="round"/>
<text x="197.8" y="739.7" font-size="26">200 s</text>
<line x1="266.95" y1="730.4" x2="324.45" y2="730.4" stroke="#00FFFF" stroke-width="4.7" stroke-linecap="round"/>
<text x="332.5" y="739.7" font-size="26">1000 s</text>
<line x1="133.25" y1="763.1" x2="191.35" y2="763.1" stroke="#FF0000" stroke-width="4.7" stroke-linecap="round" stroke-dasharray="17.5 24.95"/>
<text x="197.8" y="772.4" font-size="26">7200 s</text>
</g>
<g id="legend-e">
<line x1="830.75" y1="664.5" x2="888.45" y2="664.5" stroke="#555555" stroke-width="4.7" stroke-linecap="round"/>
<text x="895.3" y="673.8" font-size="26">0 s</text>
<line x1="958.25" y1="664.5" x2="1015.95" y2="664.5" stroke="#FFB0DC" stroke-width="4.7" stroke-linecap="round"/>
<text x="1023.8" y="673.8" font-size="26">1 s</text>
<line x1="1079.35" y1="664.5" x2="1137.15" y2="664.5" stroke="#F4A460" stroke-width="4.7" stroke-linecap="round"/>
<text x="1144.6" y="673.8" font-size="26">10 s</text>
<line x1="830.75" y1="697.4" x2="888.45" y2="697.4" stroke="#0000FF" stroke-width="4.7" stroke-linecap="round"/>
<text x="895.3" y="706.7" font-size="26">25 s</text>
<line x1="958.25" y1="697.4" x2="1015.95" y2="697.4" stroke="#AE7ADD" stroke-width="4.7" stroke-linecap="round"/>
<text x="1023.8" y="706.7" font-size="26">50 s</text>
<line x1="1079.35" y1="697.4" x2="1137.15" y2="697.4" stroke="#C99700" stroke-width="4.7" stroke-linecap="round"/>
<text x="1144.6" y="706.7" font-size="26">100 s</text>
<line x1="830.75" y1="729.7" x2="888.45" y2="729.7" stroke="#3CB371" stroke-width="4.7" stroke-linecap="round"/>
<text x="895.3" y="739" font-size="26">200 s</text>
<line x1="965.05" y1="729.7" x2="1022.15" y2="729.7" stroke="#FF0000" stroke-width="4.7" stroke-linecap="round" stroke-dasharray="17.5 24.95"/>
<text x="1029.2" y="739" font-size="26">3600 s</text>
</g>
<g id="legend-f">
<line x1="1528.75" y1="666.5" x2="1586.45" y2="666.5" stroke="#555555" stroke-width="4.7" stroke-linecap="round"/>
<text x="1592.8" y="675.8" font-size="26">0 s</text>
<line x1="1655.35" y1="666.5" x2="1713.45" y2="666.5" stroke="#FFB0DC" stroke-width="4.7" stroke-linecap="round"/>
<text x="1720.5" y="675.8" font-size="26">1 s</text>
<line x1="1775.75" y1="666.5" x2="1833.85" y2="666.5" stroke="#F4A460" stroke-width="4.7" stroke-linecap="round"/>
<text x="1840.7" y="675.8" font-size="26">10 s</text>
<line x1="1528.75" y1="698.6" x2="1586.45" y2="698.6" stroke="#0000FF" stroke-width="4.7" stroke-linecap="round"/>
<text x="1592.8" y="707.9" font-size="26">25 s</text>
<line x1="1655.35" y1="698.6" x2="1713.45" y2="698.6" stroke="#AE7ADD" stroke-width="4.7" stroke-linecap="round"/>
<text x="1720.5" y="707.9" font-size="26">50 s</text>
<line x1="1775.75" y1="698.6" x2="1833.85" y2="698.6" stroke="#C99700" stroke-width="4.7" stroke-linecap="round"/>
<text x="1840.7" y="707.9" font-size="26">100 s</text>
<line x1="1528.75" y1="731.2" x2="1586.45" y2="731.2" stroke="#3CB371" stroke-width="4.7" stroke-linecap="round"/>
<text x="1592.8" y="740.5" font-size="26">200 s</text>
<line x1="1662.15" y1="731.2" x2="1720.25" y2="731.2" stroke="#FF0000" stroke-width="4.7" stroke-linecap="round" stroke-dasharray="17.5 24.95"/>
<text x="1726.7" y="740.5" font-size="26">1800 s</text>
</g>
<text x="-1.2" y="32.5" font-size="39.5">(a)</text>
<text x="699.2" y="29.8" font-size="39.5">(b)</text>
<text x="1399.6" y="33.3" font-size="39.5">(c)</text>
<text x="2.3" y="652.5" font-size="39.5">(d)</text>
<text x="701.6" y="651.8" font-size="39.5">(e)</text>
<text x="1401.9" y="653.7" font-size="39.5">(f)</text>
<g transform="translate(28.6 305.5) rotate(-90)">
<text transform="scale(0.82 1)" x="0" y="0" font-size="36" font-style="italic" style="font-family:'DejaVu Serif',serif">σ</text>
<text x="21" y="11" font-size="39" font-style="italic" letter-spacing="0.9">r,n</text>
<text x="77.5" y="0" font-size="39">(MPa)</text>
</g>
<g transform="translate(725.6 303.3) rotate(-90)">
<text transform="scale(0.82 1)" x="0" y="0" font-size="36" font-style="italic" style="font-family:'DejaVu Serif',serif">σ</text>
<text x="21" y="11" font-size="39" font-style="italic" letter-spacing="0.9">r,n</text>
<text x="77.5" y="0" font-size="39">(MPa)</text>
</g>
<g transform="translate(1424.6 305.5) rotate(-90)">
<text transform="scale(0.82 1)" x="0" y="0" font-size="36" font-style="italic" style="font-family:'DejaVu Serif',serif">σ</text>
<text x="21" y="11" font-size="39" font-style="italic" letter-spacing="0.9">r,n</text>
<text x="77.5" y="0" font-size="39">(MPa)</text>
</g>
<g transform="translate(28.6 926.1) rotate(-90)">
<text transform="scale(0.82 1)" x="0" y="0" font-size="36" font-style="italic" style="font-family:'DejaVu Serif',serif">σ</text>
<text x="21" y="11" font-size="39" font-style="italic" letter-spacing="0.9">r,n</text>
<text x="77.5" y="0" font-size="39">(MPa)</text>
</g>
<g transform="translate(725.6 924.4) rotate(-90)">
<text transform="scale(0.82 1)" x="0" y="0" font-size="36" font-style="italic" style="font-family:'DejaVu Serif',serif">σ</text>
<text x="21" y="11" font-size="39" font-style="italic" letter-spacing="0.9">r,n</text>
<text x="77.5" y="0" font-size="39">(MPa)</text>
</g>
<g transform="translate(1424.6 927) rotate(-90)">
<text transform="scale(0.82 1)" x="0" y="0" font-size="36" font-style="italic" style="font-family:'DejaVu Serif',serif">σ</text>
<text x="21" y="11" font-size="39" font-style="italic" letter-spacing="0.9">r,n</text>
<text x="77.5" y="0" font-size="39">(MPa)</text>
</g>
<text transform="translate(381.9 536.8) scale(0.93 1)" font-size="37" font-style="italic" style="font-family:'DejaVu Serif',serif">ρ</text>
<text transform="translate(1080.4 535.4) scale(0.93 1)" font-size="37" font-style="italic" style="font-family:'DejaVu Serif',serif">ρ</text>
<text transform="translate(1776.8 535.9) scale(0.93 1)" font-size="37" font-style="italic" style="font-family:'DejaVu Serif',serif">ρ</text>
<text transform="translate(382.2 1156.2) scale(0.93 1)" font-size="37" font-style="italic" style="font-family:'DejaVu Serif',serif">ρ</text>
<text transform="translate(1080.4 1156.2) scale(0.93 1)" font-size="37" font-style="italic" style="font-family:'DejaVu Serif',serif">ρ</text>
<text transform="translate(1777 1156.8) scale(0.93 1)" font-size="37" font-style="italic" style="font-family:'DejaVu Serif',serif">ρ</text>
</svg></body></html>
